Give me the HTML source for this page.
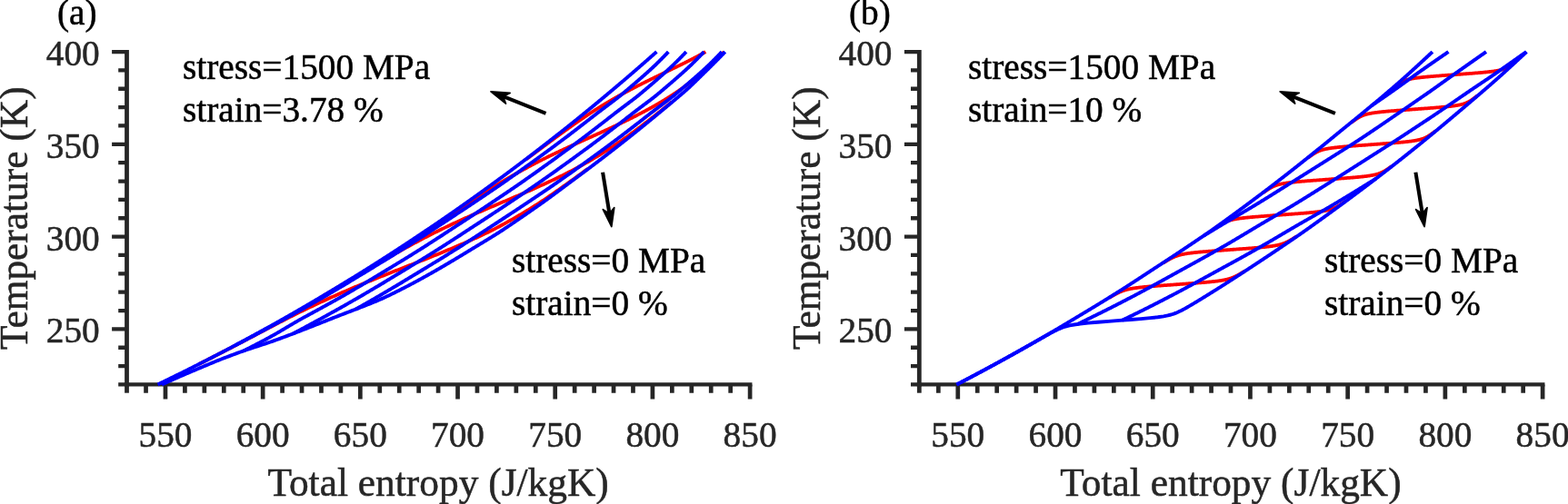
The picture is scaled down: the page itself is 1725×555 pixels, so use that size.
<!DOCTYPE html>
<html lang="en"><head><meta charset="utf-8"><title>Temperature vs total entropy</title>
<style>
html,body{margin:0;padding:0;background:#fff;}
body{width:1725px;height:555px;overflow:hidden;font-family:"Liberation Serif",serif;}
svg{display:block;}
text{white-space:pre;}
</style></head><body>
<svg width="1725" height="555" viewBox="0 0 1725 555" font-family="'Liberation Serif', serif">
<rect width="1725" height="555" fill="#fff"/>
<path d="M139.50,54.90V425.60" stroke="#262626" stroke-width="4.8" fill="none"/>
<path d="M137.10,423.45H827.45" stroke="#262626" stroke-width="4.3" fill="none"/>
<path d="M160.54,423.45v9.25M181.97,423.45v16.0M203.41,423.45v9.25M224.85,423.45v9.25M246.29,423.45v9.25M267.73,423.45v9.25M289.16,423.45v16.0M310.60,423.45v9.25M332.04,423.45v9.25M353.47,423.45v9.25M374.91,423.45v9.25M396.35,423.45v16.0M417.79,423.45v9.25M439.23,423.45v9.25M460.66,423.45v9.25M482.10,423.45v9.25M503.54,423.45v16.0M524.97,423.45v9.25M546.41,423.45v9.25M567.85,423.45v9.25M589.29,423.45v9.25M610.72,423.45v16.0M632.16,423.45v9.25M653.60,423.45v9.25M675.04,423.45v9.25M696.48,423.45v9.25M717.91,423.45v16.0M739.35,423.45v9.25M760.79,423.45v9.25M782.23,423.45v9.25M803.66,423.45v9.25M825.10,423.45v16.0" stroke="#262626" stroke-width="4.7" fill="none"/>
<path d="M139.50,423.45v9.25" stroke="#262626" stroke-width="4.8" fill="none"/>
<path d="M139.50,423.45H130.20M139.50,403.09H130.20M139.50,382.74H130.20M139.50,362.38H123.10M139.50,342.03H130.20M139.50,321.67H130.20M139.50,301.32H130.20M139.50,280.96H130.20M139.50,260.61H123.10M139.50,240.25H130.20M139.50,219.89H130.20M139.50,199.54H130.20M139.50,179.18H130.20M139.50,158.83H123.10M139.50,138.47H130.20M139.50,118.12H130.20M139.50,97.76H130.20M139.50,77.41H130.20M139.50,57.05H123.10" stroke="#262626" stroke-width="4.3" fill="none"/>
<g>
<path d="M578.84,175.50L579.37,175.10L579.90,174.71L580.44,174.31L580.97,173.92L581.50,173.52L582.03,173.12L582.56,172.73L583.10,172.33L583.63,171.93L584.16,171.54L584.69,171.14L585.22,170.75L585.76,170.35L586.29,169.95L586.82,169.56L587.35,169.16L587.88,168.77L588.42,168.37L588.95,167.97L589.48,167.58L590.01,167.18L590.54,166.78L591.08,166.39L591.61,165.99L592.14,165.60L592.67,165.20L593.20,164.80L593.74,164.41L594.27,164.01L594.80,163.62L595.33,163.22L595.87,162.82L596.40,162.43L596.93,162.03L597.47,161.63L598.00,161.24L598.53,160.84L599.06,160.45L599.60,160.05L600.13,159.65L600.67,159.26L601.20,158.86L601.73,158.47L602.27,158.07L602.80,157.67L603.34,157.28L603.87,156.88L604.41,156.48L604.94,156.09L605.48,155.69L606.01,155.30L606.55,154.90L607.09,154.50L607.62,154.11L608.16,153.71L608.70,153.32L609.24,152.92L609.77,152.52L610.31,152.13L610.85,151.73L611.39,151.33L611.93,150.94L612.47,150.54L613.01,150.15L613.55,149.75L614.09,149.35L614.63,148.96L615.18,148.56L615.72,148.17L616.26,147.77L616.81,147.37L617.35,146.98L617.89,146.58L618.44,146.18L618.98,145.79L619.53,145.39L620.08,145.00L620.62,144.60L621.17,144.20L621.72,143.81L622.27,143.41L622.82,143.02L623.37,142.62L623.92,142.22L624.47,141.83L625.03,141.43L625.58,141.03L626.14,140.64L626.69,140.24L627.25,139.85L627.80,139.45L628.36,139.05L628.92,138.66L629.48,138.26L630.04,137.87L630.60,137.47L631.16,137.07L631.72,136.68L632.29,136.28L632.85,135.88L633.42,135.49L633.99,135.09L634.55,134.70L635.12,134.30L635.69,133.90L636.26,133.51L636.84,133.11L637.41,132.72L637.99,132.32L638.56,131.92L639.14,131.53L639.72,131.13L640.30,130.73L640.88,130.34L641.46,129.94L642.04,129.55L642.63,129.15L643.22,128.75L643.80,128.36L644.39,127.96L644.99,127.57L645.58,127.17L646.17,126.77L646.77,126.38L647.36,125.98L647.96,125.58L648.56,125.19L649.16,124.79L649.77,124.40L650.37,124.00L650.98,123.60L651.59,123.21L652.20,122.81L652.81,122.42L653.43,122.02L654.04,121.62L654.66,121.23L655.28,120.83L655.90,120.43L656.53,120.04L657.15,119.64L657.78,119.25L658.41,118.85L659.04,118.45L659.68,118.06L660.32,117.66L660.95,117.27L661.59,116.87L662.24,116.47L662.88,116.08L663.53,115.68L664.18,115.28L664.83,114.89L665.49,114.49L666.14,114.10L666.80,113.70L667.46,113.30L668.13,112.91L668.79,112.51L669.46,112.12L670.13,111.72L670.81,111.32L671.48,110.93L672.16,110.53L672.84,110.13L673.53,109.74L674.21,109.34L674.90,108.95L675.59,108.55L676.29,108.15L676.98,107.76L677.68,107.36L678.39,106.97L679.09,106.57L679.80,106.17L680.51,105.78L681.22,105.38L681.93,104.98L682.65,104.59L683.37,104.19L684.10,103.80L684.82,103.40L685.55,103.00L686.28,102.61L687.02,102.21L687.75,101.82L688.49,101.42L689.23,101.02L689.98,100.63L690.72,100.23L691.47,99.83L692.22,99.44L692.97,99.04L693.73,98.65L694.49,98.25L695.24,97.85L696.00,97.46L696.77,97.06L697.53,96.67L698.30,96.27L699.07,95.87L699.84,95.48L700.61,95.08L701.39,94.68L702.16,94.29L702.94,93.89L703.72,93.50L704.51,93.10L705.29,92.70L706.07,92.31L706.86,91.91L707.65,91.52L708.44,91.12L709.23,90.72L710.03,90.33L710.82,89.93L711.62,89.53L712.42,89.14L713.22,88.74L714.02,88.35L714.82,87.95L715.63,87.55L716.43,87.16L717.24,86.76L718.04,86.37L718.85,85.97L719.66,85.57L720.47,85.18L721.28,84.78L722.10,84.38L722.91,83.99L723.73,83.59L724.54,83.20L725.36,82.80L726.17,82.40L726.99,82.01L727.81,81.61L728.63,81.22L729.45,80.82L730.27,80.42L731.09,80.03L731.91,79.63L732.73,79.23L733.55,78.84L734.37,78.44L735.19,78.05L736.01,77.65L736.83,77.25L737.65,76.86L738.47,76.46L739.29,76.07L740.10,75.67L740.92,75.27L741.74,74.88L742.55,74.48L743.36,74.08L744.17,73.69L744.98,73.29L745.79,72.90L746.60,72.50L747.41,72.10L748.21,71.71L749.02,71.31L749.82,70.92L750.62,70.52L751.42,70.12L752.21,69.73L753.01,69.33L753.80,68.93L754.59,68.54L755.38,68.14L756.16,67.75L756.94,67.35L757.72,66.95L758.50,66.56L759.28,66.16L760.05,65.77L760.82,65.37L761.59,64.97L762.36,64.58L763.12,64.18L763.88,63.78L764.64,63.39L765.39,62.99L766.14,62.60L766.89,62.20L767.63,61.80L768.37,61.41L769.11,61.01L769.85,60.62L770.58,60.22L771.31,59.82L772.04,59.43L772.76,59.03L773.48,58.63L774.19,58.24L774.91,57.84L775.61,57.45L776.32,57.05" stroke="#ff0000" stroke-width="3.8" fill="none" stroke-linejoin="round" stroke-linecap="butt"/>
<path d="M464.67,257.00L465.68,256.33L466.70,255.66L467.71,254.99L468.72,254.33L469.74,253.66L470.75,252.99L471.76,252.32L472.77,251.65L473.78,250.98L474.79,250.31L475.80,249.64L476.81,248.98L477.82,248.31L478.83,247.64L479.84,246.97L480.85,246.30L481.86,245.63L482.87,244.96L483.88,244.29L484.88,243.63L485.89,242.96L486.90,242.29L487.91,241.62L488.92,240.95L489.93,240.28L490.93,239.61L491.94,238.94L492.95,238.28L493.96,237.61L494.97,236.94L495.98,236.27L496.99,235.60L498.00,234.93L499.01,234.26L500.02,233.59L501.03,232.93L502.04,232.26L503.06,231.59L504.07,230.92L505.08,230.25L506.10,229.58L507.11,228.91L508.13,228.24L509.15,227.58L510.16,226.91L511.18,226.24L512.20,225.57L513.22,224.90L514.25,224.23L515.27,223.56L516.29,222.89L517.32,222.23L518.35,221.56L519.38,220.89L520.41,220.22L521.44,219.55L522.47,218.88L523.50,218.21L524.54,217.54L525.58,216.88L526.62,216.21L527.66,215.54L528.71,214.87L529.75,214.20L530.80,213.53L531.85,212.86L532.90,212.20L533.96,211.53L535.02,210.86L536.08,210.19L537.14,209.52L538.21,208.85L539.28,208.18L540.35,207.51L541.43,206.85L542.51,206.18L543.59,205.51L544.68,204.84L545.76,204.17L546.86,203.50L547.96,202.83L549.06,202.16L550.16,201.50L551.27,200.83L552.39,200.16L553.50,199.49L554.63,198.82L555.75,198.15L556.89,197.48L558.02,196.81L559.16,196.15L560.31,195.48L561.46,194.81L562.62,194.14L563.78,193.47L564.95,192.80L566.12,192.13L567.30,191.46L568.48,190.80L569.67,190.13L570.87,189.46L572.07,188.79L573.28,188.12L574.49,187.45L575.71,186.78L576.93,186.11L578.17,185.45L579.41,184.78L580.65,184.11L581.90,183.44L583.16,182.77L584.42,182.10L585.70,181.43L586.97,180.76L588.26,180.10L589.55,179.43L590.85,178.76L592.15,178.09L593.46,177.42L594.78,176.75L596.11,176.08L597.44,175.42L598.78,174.75L600.12,174.08L601.47,173.41L602.83,172.74L604.20,172.07L605.57,171.40L606.95,170.73L608.33,170.07L609.72,169.40L611.12,168.73L612.52,168.06L613.93,167.39L615.34,166.72L616.76,166.05L618.18,165.38L619.61,164.72L621.05,164.05L622.49,163.38L623.93,162.71L625.38,162.04L626.83,161.37L628.29,160.70L629.75,160.03L631.22,159.37L632.68,158.70L634.15,158.03L635.63,157.36L637.10,156.69L638.58,156.02L640.06,155.35L641.54,154.68L643.03,154.02L644.51,153.35L645.99,152.68L647.48,152.01L648.97,151.34L650.45,150.67L651.94,150.00L653.42,149.33L654.90,148.67L656.38,148.00L657.86,147.33L659.34,146.66L660.82,145.99L662.29,145.32L663.76,144.65L665.22,143.98L666.69,143.32L668.14,142.65L669.60,141.98L671.05,141.31L672.49,140.64L673.93,139.97L675.37,139.30L676.80,138.63L678.22,137.97L679.64,137.30L681.05,136.63L682.46,135.96L683.86,135.29L685.25,134.62L686.64,133.95L688.01,133.29L689.39,132.62L690.75,131.95L692.11,131.28L693.46,130.61L694.80,129.94L696.13,129.27L697.46,128.60L698.78,127.94L700.09,127.27L701.39,126.60L702.69,125.93L703.97,125.26L705.25,124.59L706.52,123.92L707.78,123.25L709.04,122.59L710.28,121.92L711.52,121.25L712.75,120.58L713.97,119.91L715.19,119.24L716.39,118.57L717.59,117.90L718.78,117.24L719.96,116.57L721.13,115.90L722.29,115.23L723.45,114.56L724.59,113.89L725.73,113.22L726.86,112.55L727.99,111.89L729.10,111.22L730.21,110.55L731.31,109.88L732.40,109.21L733.48,108.54L734.56,107.87L735.62,107.20L736.68,106.54L737.73,105.87L738.78,105.20L739.81,104.53L740.84,103.86L741.86,103.19L742.88,102.52L743.88,101.85L744.88,101.19L745.86,100.52L746.83,99.85L747.79,99.18L748.74,98.51L749.68,97.84L750.61,97.17L751.53,96.51L752.43,95.84L753.33,95.17L754.22,94.50L755.10,93.83L755.98,93.16L756.84,92.49L757.70,91.82L758.55,91.16L759.39,90.49L760.23,89.82L761.06,89.15L761.88,88.48L762.70,87.81L763.51,87.14L764.32,86.47L765.12,85.81L765.92,85.14L766.72,84.47L767.51,83.80L768.30,83.13L769.09,82.46L769.87,81.79L770.66,81.12L771.44,80.46L772.22,79.79L772.99,79.12L773.76,78.45L774.53,77.78L775.30,77.11L776.06,76.44L776.82,75.77L777.57,75.11L778.32,74.44L779.06,73.77L779.81,73.10L780.55,72.43L781.28,71.76L782.02,71.09L782.75,70.42L783.47,69.76L784.20,69.09L784.92,68.42L785.64,67.75L786.35,67.08L787.06,66.41L787.77,65.74L788.48,65.07L789.18,64.41L789.88,63.74L790.58,63.07L791.28,62.40L791.97,61.73L792.66,61.06L793.35,60.39L794.04,59.72L794.72,59.06L795.40,58.39L796.08,57.72L796.76,57.05" stroke="#ff0000" stroke-width="3.8" fill="none" stroke-linejoin="round" stroke-linecap="butt"/>
<path d="M353.54,327.10L354.77,326.38L355.99,325.66L357.22,324.94L358.44,324.22L359.67,323.50L360.89,322.79L362.12,322.07L363.34,321.35L364.56,320.63L365.78,319.91L367.00,319.19L368.22,318.47L369.44,317.75L370.65,317.03L371.87,316.31L373.09,315.59L374.30,314.88L375.52,314.16L376.73,313.44L377.95,312.72L379.16,312.00L380.38,311.28L381.59,310.56L382.80,309.84L384.02,309.12L385.23,308.40L386.44,307.69L387.66,306.97L388.87,306.25L390.08,305.53L391.30,304.81L392.51,304.09L393.72,303.37L394.94,302.65L396.15,301.93L397.36,301.21L398.58,300.49L399.79,299.78L401.01,299.06L402.23,298.34L403.44,297.62L404.66,296.90L405.88,296.18L407.10,295.46L408.32,294.74L409.54,294.02L410.77,293.30L411.99,292.58L413.22,291.87L414.44,291.15L415.67,290.43L416.90,289.71L418.13,288.99L419.36,288.27L420.60,287.55L421.84,286.83L423.08,286.11L424.32,285.39L425.56,284.68L426.81,283.96L428.06,283.24L429.31,282.52L430.56,281.80L431.82,281.08L433.08,280.36L434.34,279.64L435.61,278.92L436.88,278.20L438.15,277.48L439.42,276.77L440.71,276.05L441.99,275.33L443.28,274.61L444.57,273.89L445.87,273.17L447.17,272.45L448.48,271.73L449.79,271.01L451.11,270.29L452.43,269.57L453.76,268.86L455.09,268.14L456.43,267.42L457.78,266.70L459.13,265.98L460.48,265.26L461.85,264.54L463.21,263.82L464.59,263.10L465.97,262.38L467.36,261.67L468.75,260.95L470.16,260.23L471.56,259.51L472.98,258.79L474.40,258.07L475.83,257.35L477.26,256.63L478.71,255.91L480.16,255.19L481.61,254.47L483.08,253.76L484.55,253.04L486.02,252.32L487.51,251.60L489.00,250.88L490.49,250.16L492.00,249.44L493.51,248.72L495.03,248.00L496.55,247.28L498.09,246.56L499.63,245.85L501.18,245.13L502.74,244.41L504.30,243.69L505.88,242.97L507.46,242.25L509.05,241.53L510.64,240.81L512.24,240.09L513.85,239.37L515.47,238.66L517.09,237.94L518.72,237.22L520.36,236.50L522.00,235.78L523.65,235.06L525.31,234.34L526.97,233.62L528.64,232.90L530.31,232.18L531.98,231.46L533.67,230.75L535.35,230.03L537.04,229.31L538.73,228.59L540.43,227.87L542.13,227.15L543.83,226.43L545.54,225.71L547.24,224.99L548.95,224.27L550.66,223.55L552.37,222.84L554.07,222.12L555.78,221.40L557.48,220.68L559.18,219.96L560.88,219.24L562.58,218.52L564.27,217.80L565.96,217.08L567.65,216.36L569.33,215.65L571.01,214.93L572.68,214.21L574.35,213.49L576.02,212.77L577.67,212.05L579.33,211.33L580.97,210.61L582.61,209.89L584.25,209.17L585.88,208.45L587.50,207.74L589.11,207.02L590.72,206.30L592.32,205.58L593.91,204.86L595.50,204.14L597.08,203.42L598.65,202.70L600.22,201.98L601.78,201.26L603.33,200.54L604.87,199.83L606.40,199.11L607.93,198.39L609.45,197.67L610.95,196.95L612.45,196.23L613.94,195.51L615.42,194.79L616.89,194.07L618.35,193.35L619.80,192.64L621.23,191.92L622.66,191.20L624.08,190.48L625.49,189.76L626.89,189.04L628.28,188.32L629.67,187.60L631.04,186.88L632.40,186.16L633.75,185.44L635.09,184.73L636.42,184.01L637.75,183.29L639.06,182.57L640.36,181.85L641.66,181.13L642.94,180.41L644.22,179.69L645.48,178.97L646.74,178.25L647.99,177.53L649.23,176.82L650.46,176.10L651.69,175.38L652.90,174.66L654.11,173.94L655.30,173.22L656.50,172.50L657.68,171.78L658.85,171.06L660.02,170.34L661.18,169.63L662.33,168.91L663.48,168.19L664.62,167.47L665.75,166.75L666.87,166.03L667.99,165.31L669.11,164.59L670.21,163.87L671.31,163.15L672.40,162.43L673.49,161.72L674.57,161.00L675.65,160.28L676.72,159.56L677.78,158.84L678.84,158.12L679.90,157.40L680.95,156.68L681.99,155.96L683.03,155.24L684.06,154.52L685.09,153.81L686.12,153.09L687.14,152.37L688.15,151.65L689.16,150.93L690.17,150.21L691.17,149.49L692.17,148.77L693.16,148.05L694.15,147.33L695.14,146.62L696.12,145.90L697.10,145.18L698.07,144.46L699.04,143.74L700.01,143.02L700.97,142.30L701.93,141.58L702.89,140.86L703.84,140.14L704.79,139.42L705.74,138.71L706.68,137.99L707.62,137.27L708.56,136.55L709.49,135.83L710.43,135.11L711.36,134.39L712.29,133.67L713.21,132.95L714.13,132.23L715.06,131.51L715.97,130.80L716.89,130.08L717.81,129.36L718.72,128.64L719.63,127.92L720.54,127.20L721.44,126.48L722.35,125.76L723.25,125.04L724.15,124.32L725.06,123.61L725.96,122.89L726.85,122.17L727.75,121.45L728.65,120.73L729.54,120.01L730.43,119.29L731.32,118.57L732.21,117.85L733.10,117.13L733.99,116.41L734.87,115.70L735.76,114.98L736.64,114.26L737.52,113.54L738.40,112.82L739.27,112.10" stroke="#ff0000" stroke-width="3.8" fill="none" stroke-linejoin="round" stroke-linecap="butt"/>
<path d="M219.45,400.70L220.86,399.98L222.28,399.26L223.70,398.54L225.11,397.82L226.52,397.10L227.94,396.39L229.35,395.67L230.76,394.95L232.17,394.23L233.57,393.51L234.98,392.79L236.39,392.07L237.79,391.35L239.19,390.63L240.59,389.91L241.99,389.19L243.39,388.48L244.79,387.76L246.18,387.04L247.58,386.32L248.97,385.60L250.37,384.88L251.76,384.16L253.15,383.44L254.54,382.72L255.92,382.00L257.31,381.29L258.69,380.57L260.08,379.85L261.46,379.13L262.84,378.41L264.21,377.69L265.59,376.97L266.96,376.25L268.33,375.53L269.70,374.81L271.06,374.09L272.43,373.38L273.79,372.66L275.16,371.94L276.52,371.22L277.89,370.50L279.25,369.78L280.62,369.06L281.98,368.34L283.35,367.62L284.71,366.90L286.08,366.18L287.45,365.47L288.81,364.75L290.18,364.03L291.55,363.31L292.92,362.59L294.29,361.87L295.66,361.15L297.03,360.43L298.41,359.71L299.79,358.99L301.16,358.28L302.54,357.56L303.93,356.84L305.31,356.12L306.70,355.40L308.08,354.68L309.48,353.96L310.87,353.24L312.27,352.52L313.67,351.80L315.07,351.08L316.48,350.37L317.89,349.65L319.31,348.93L320.73,348.21L322.16,347.49L323.59,346.77L325.02,346.05L326.47,345.33L327.92,344.61L329.37,343.89L330.83,343.17L332.30,342.46L333.77,341.74L335.25,341.02L336.74,340.30L338.23,339.58L339.73,338.86L341.24,338.14L342.76,337.42L344.28,336.70L345.80,335.98L347.34,335.27L348.88,334.55L350.43,333.83L351.99,333.11L353.55,332.39L355.12,331.67L356.70,330.95L358.28,330.23L359.87,329.51L361.46,328.79L363.06,328.07L364.66,327.36L366.27,326.64L367.89,325.92L369.50,325.20L371.13,324.48L372.76,323.76L374.39,323.04L376.04,322.32L377.69,321.60L379.35,320.88L381.02,320.16L382.69,319.45L384.38,318.73L386.07,318.01L387.77,317.29L389.47,316.57L391.19,315.85L392.91,315.13L394.63,314.41L396.37,313.69L398.11,312.97L399.86,312.26L401.62,311.54L403.38,310.82L405.15,310.10L406.93,309.38L408.71,308.66L410.50,307.94L412.29,307.22L414.09,306.50L415.90,305.78L417.71,305.06L419.52,304.35L421.34,303.63L423.16,302.91L424.99,302.19L426.82,301.47L428.65,300.75L430.49,300.03L432.33,299.31L434.17,298.59L436.01,297.87L437.86,297.15L439.70,296.44L441.55,295.72L443.39,295.00L445.24,294.28L447.08,293.56L448.93,292.84L450.77,292.12L452.61,291.40L454.45,290.68L456.29,289.96L458.13,289.25L459.96,288.53L461.79,287.81L463.61,287.09L465.44,286.37L467.25,285.65L469.07,284.93L470.88,284.21L472.68,283.49L474.48,282.77L476.27,282.05L478.06,281.34L479.84,280.62L481.62,279.90L483.39,279.18L485.15,278.46L486.91,277.74L488.66,277.02L490.40,276.30L492.14,275.58L493.87,274.86L495.59,274.14L497.31,273.43L499.02,272.71L500.72,271.99L502.42,271.27L504.11,270.55L505.80,269.83L507.47,269.11L509.14,268.39L510.80,267.67L512.45,266.95L514.09,266.24L515.72,265.52L517.34,264.80L518.95,264.08L520.56,263.36L522.15,262.64L523.73,261.92L525.30,261.20L526.85,260.48L528.40,259.76L529.94,259.04L531.46,258.33L532.97,257.61L534.47,256.89L535.95,256.17L537.42,255.45L538.88,254.73L540.32,254.01L541.76,253.29L543.17,252.57L544.57,251.85L545.96,251.13L547.33,250.42L548.69,249.70L550.04,248.98L551.38,248.26L552.71,247.54L554.04,246.82L555.35,246.10L556.66,245.38L557.96,244.66L559.25,243.94L560.53,243.23L561.81,242.51L563.08,241.79L564.34,241.07L565.59,240.35L566.84,239.63L568.08,238.91L569.32,238.19L570.54,237.47L571.76,236.75L572.98,236.03L574.18,235.32L575.39,234.60L576.58,233.88L577.77,233.16L578.95,232.44L580.13,231.72L581.30,231.00L582.47,230.28L583.63,229.56L584.79,228.84L585.94,228.12L587.09,227.41L588.23,226.69L589.36,225.97L590.50,225.25L591.62,224.53L592.74,223.81L593.85,223.09L594.96,222.37L596.05,221.65L597.15,220.93L598.23,220.22L599.31,219.50L600.38,218.78L601.45,218.06L602.51,217.34L603.57,216.62L604.62,215.90L605.67,215.18L606.71,214.46L607.75,213.74L608.79,213.02L609.82,212.31L610.85,211.59L611.87,210.87L612.90,210.15L613.92,209.43L614.93,208.71L615.95,207.99L616.96,207.27L617.97,206.55L618.99,205.83L619.99,205.11L621.00,204.40L622.01,203.68L623.02,202.96L624.03,202.24L625.03,201.52L626.04,200.80L627.05,200.08L628.05,199.36L629.06,198.64L630.06,197.92L631.07,197.21L632.07,196.49L633.07,195.77L634.06,195.05L635.06,194.33L636.05,193.61L637.04,192.89L638.03,192.17L639.02,191.45L640.01,190.73L641.00,190.01L641.98,189.30L642.96,188.58L643.94,187.86L644.92,187.14L645.90,186.42L646.88,185.70" stroke="#ff0000" stroke-width="3.8" fill="none" stroke-linejoin="round" stroke-linecap="butt"/>
<path d="M173.57,423.45L175.46,422.53L177.34,421.62L179.22,420.70L181.10,419.79L182.97,418.87L184.84,417.95L186.70,417.04L188.56,416.12L190.42,415.21L192.28,414.29L194.13,413.37L195.97,412.46L197.82,411.54L199.66,410.63L201.49,409.71L203.33,408.79L205.16,407.88L206.98,406.96L208.80,406.05L210.62,405.13L212.44,404.21L214.25,403.30L216.06,402.38L217.87,401.47L219.67,400.55L221.47,399.63L223.26,398.72L225.06,397.80L226.85,396.89L228.64,395.97L230.42,395.05L232.21,394.14L233.99,393.22L235.77,392.31L237.54,391.39L239.32,390.47L241.09,389.56L242.85,388.64L244.61,387.73L246.37,386.81L248.12,385.89L249.87,384.98L251.62,384.06L253.36,383.15L255.09,382.23L256.83,381.31L258.55,380.40L260.27,379.48L261.99,378.57L263.70,377.65L265.40,376.73L267.10,375.82L268.80,374.90L270.49,373.99L272.17,373.07L273.86,372.15L275.54,371.24L277.22,370.32L278.89,369.41L280.56,368.49L282.23,367.57L283.89,366.66L285.56,365.74L287.22,364.83L288.87,363.91L290.52,362.99L292.17,362.08L293.82,361.16L295.47,360.25L297.11,359.33L298.75,358.41L300.38,357.50L302.01,356.58L303.64,355.67L305.27,354.75L306.89,353.83L308.51,352.92L310.13,352.00L311.75,351.09L313.36,350.17L314.97,349.25L316.58,348.34L318.18,347.42L319.78,346.51L321.38,345.59L322.98,344.67L324.57,343.76L326.16,342.84L327.75,341.93L329.33,341.01L330.91,340.09L332.49,339.18L334.07,338.26L335.64,337.35L337.21,336.43L338.78,335.51L340.35,334.60L341.91,333.68L343.47,332.77L345.03,331.85L346.58,330.93L348.13,330.02L349.68,329.10L351.23,328.19L352.77,327.27L354.32,326.35L355.86,325.44L357.39,324.52L358.93,323.61L360.46,322.69L361.99,321.77L363.51,320.86L365.04,319.94L366.56,319.03L368.08,318.11L369.59,317.19L371.11,316.28L372.62,315.36L374.13,314.45L375.63,313.53L377.14,312.61L378.64,311.70L380.14,310.78L381.63,309.87L383.13,308.95L384.62,308.03L386.11,307.12L387.60,306.20L389.08,305.29L390.56,304.37L392.04,303.45L393.52,302.54L394.99,301.62L396.47,300.71L397.94,299.79L399.40,298.87L400.87,297.96L402.33,297.04L403.79,296.13L405.25,295.21L406.71,294.29L408.16,293.38L409.61,292.46L411.06,291.55L412.51,290.63L413.95,289.71L415.40,288.80L416.84,287.88L418.27,286.97L419.71,286.05L421.14,285.13L422.57,284.22L424.00,283.30L425.43,282.39L426.85,281.47L428.28,280.55L429.70,279.64L431.11,278.72L432.53,277.81L433.94,276.89L435.36,275.97L436.76,275.06L438.17,274.14L439.58,273.23L440.98,272.31L442.38,271.39L443.78,270.48L445.17,269.56L446.57,268.65L447.96,267.73L449.35,266.81L450.74,265.90L452.12,264.98L453.51,264.07L454.89,263.15L456.27,262.23L457.64,261.32L459.02,260.40L460.39,259.49L461.76,258.57L463.13,257.65L464.50,256.74L465.87,255.82L467.23,254.91L468.59,253.99L469.95,253.07L471.31,252.16L472.66,251.24L474.01,250.33L475.36,249.41L476.71,248.49L478.06,247.58L479.40,246.66L480.75,245.75L482.09,244.83L483.43,243.91L484.76,243.00L486.10,242.08L487.43,241.17L488.76,240.25L490.09,239.33L491.42,238.42L492.75,237.50L494.07,236.59L495.39,235.67L496.71,234.75L498.03,233.84L499.35,232.92L500.66,232.01L501.97,231.09L503.28,230.17L504.59,229.26L505.90,228.34L507.20,227.43L508.51,226.51L509.81,225.59L511.11,224.68L512.40,223.76L513.70,222.85L514.99,221.93L516.28,221.01L517.57,220.10L518.86,219.18L520.15,218.27L521.43,217.35L522.72,216.43L524.00,215.52L525.28,214.60L526.55,213.69L527.83,212.77L529.10,211.85L530.38,210.94L531.65,210.02L532.92,209.11L534.18,208.19L535.45,207.27L536.71,206.36L537.97,205.44L539.23,204.53L540.49,203.61L541.75,202.69L543.00,201.78L544.25,200.86L545.51,199.95L546.76,199.03L548.00,198.11L549.25,197.20L550.49,196.28L551.74,195.37L552.98,194.45L554.22,193.53L555.46,192.62L556.69,191.70L557.93,190.79L559.16,189.87L560.39,188.95L561.62,188.04L562.85,187.12L564.07,186.21L565.30,185.29L566.52,184.37L567.74,183.46L568.96,182.54L570.18,181.63L571.40,180.71L572.61,179.79L573.82,178.88L575.04,177.96L576.25,177.05L577.45,176.13L578.66,175.21L579.87,174.30L581.07,173.38L582.27,172.47L583.47,171.55L584.67,170.63L585.87,169.72L587.07,168.80L588.26,167.89L589.45,166.97L590.64,166.05L591.83,165.14L593.02,164.22L594.21,163.31L595.39,162.39L596.58,161.47L597.76,160.56L598.94,159.64L600.12,158.73L601.29,157.81L602.47,156.89L603.64,155.98L604.82,155.06L605.99,154.15L607.16,153.23L608.33,152.31L609.49,151.40L610.66,150.48L611.82,149.57L612.99,148.65L614.15,147.73L615.31,146.82L616.46,145.90L617.62,144.99L618.78,144.07L619.93,143.15L621.08,142.24L622.23,141.32L623.38,140.41L624.53,139.49L625.68,138.57L626.82,137.66L627.96,136.74L629.11,135.83L630.25,134.91L631.39,133.99L632.52,133.08L633.66,132.16L634.80,131.25L635.93,130.33L637.06,129.41L638.19,128.50L639.32,127.58L640.45,126.67L641.58,125.75L642.70,124.83L643.83,123.92L644.95,123.00L646.07,122.09L647.19,121.17L648.31,120.25L649.43,119.34L650.54,118.42L651.66,117.51L652.77,116.59L653.88,115.67L654.99,114.76L656.10,113.84L657.21,112.93L658.31,112.01L659.42,111.09L660.52,110.18L661.63,109.26L662.73,108.35L663.83,107.43L664.92,106.51L666.02,105.60L667.12,104.68L668.21,103.77L669.30,102.85L670.40,101.93L671.49,101.02L672.58,100.10L673.66,99.19L674.75,98.27L675.84,97.35L676.92,96.44L678.00,95.52L679.08,94.61L680.16,93.69L681.24,92.77L682.32,91.86L683.40,90.94L684.47,90.03L685.55,89.11L686.62,88.19L687.69,87.28L688.76,86.36L689.83,85.45L690.90,84.53L691.96,83.61L693.03,82.70L694.09,81.78L695.16,80.87L696.22,79.95L697.28,79.03L698.34,78.12L699.39,77.20L700.45,76.29L701.51,75.37L702.56,74.45L703.61,73.54L704.66,72.62L705.72,71.71L706.76,70.79L707.81,69.87L708.86,68.96L709.91,68.04L710.95,67.13L711.99,66.21L713.04,65.29L714.08,64.38L715.12,63.46L716.15,62.55L717.19,61.63L718.23,60.71L719.26,59.80L720.30,58.88L721.33,57.97L722.36,57.05" stroke="#0000ff" stroke-width="3.9" fill="none" stroke-linejoin="round" stroke-linecap="butt"/>
<path d="M178.08,423.45L180.05,422.53L182.05,421.62L184.06,420.70L186.09,419.79L188.14,418.87L190.19,417.95L192.27,417.04L194.35,416.12L196.45,415.21L198.56,414.29L200.68,413.37L202.81,412.46L204.94,411.54L207.09,410.63L209.25,409.71L211.41,408.79L213.57,407.88L215.75,406.96L217.92,406.05L220.10,405.13L222.29,404.21L224.47,403.30L226.66,402.38L228.85,401.47L231.03,400.55L233.22,399.63L235.44,398.72L237.69,397.80L239.96,396.89L242.27,395.97L244.60,395.05L246.95,394.14L249.33,393.22L251.73,392.31L254.15,391.39L256.59,390.47L259.05,389.56L261.52,388.64L264.03,387.73L266.63,386.81L269.28,385.89L272.00,384.98L274.75,384.06L277.53,383.15L280.34,382.23L283.15,381.31L285.97,380.40L288.77,379.48L291.54,378.57L294.28,377.65L296.98,376.73L299.62,375.82L302.19,374.90L304.72,373.99L307.23,373.07L309.72,372.15L312.20,371.24L314.66,370.32L317.11,369.41L319.54,368.49L321.96,367.57L324.36,366.66L326.76,365.74L329.14,364.83L331.51,363.91L333.88,362.99L336.23,362.08L338.58,361.16L340.92,360.25L343.25,359.33L345.58,358.41L347.90,357.50L350.22,356.58L352.54,355.67L354.86,354.75L357.17,353.83L359.48,352.92L361.80,352.00L364.11,351.09L366.43,350.17L368.75,349.25L371.10,348.34L373.45,347.42L375.82,346.51L378.20,345.59L380.59,344.67L382.98,343.76L385.37,342.84L387.77,341.93L390.15,341.01L392.54,340.09L394.91,339.18L397.27,338.26L399.62,337.35L401.95,336.43L404.27,335.51L406.56,334.60L408.82,333.68L411.06,332.77L413.27,331.85L415.45,330.93L417.59,330.02L419.70,329.10L421.76,328.19L423.78,327.27L425.76,326.35L427.69,325.44L429.57,324.52L431.43,323.61L433.29,322.69L435.13,321.77L436.95,320.86L438.77,319.94L440.57,319.03L442.37,318.11L444.15,317.19L445.92,316.28L447.68,315.36L449.43,314.45L451.17,313.53L452.89,312.61L454.61,311.70L456.32,310.78L458.02,309.87L459.71,308.95L461.39,308.03L463.07,307.12L464.73,306.20L466.39,305.29L468.04,304.37L469.68,303.45L471.31,302.54L472.94,301.62L474.56,300.71L476.17,299.79L477.77,298.87L479.37,297.96L480.96,297.04L482.55,296.13L484.13,295.21L485.70,294.29L487.26,293.38L488.82,292.46L490.38,291.55L491.93,290.63L493.47,289.71L495.01,288.80L496.55,287.88L498.08,286.97L499.61,286.05L501.13,285.13L502.66,284.22L504.18,283.30L505.69,282.39L507.21,281.47L508.72,280.55L510.23,279.64L511.73,278.72L513.24,277.81L514.75,276.89L516.25,275.97L517.76,275.06L519.26,274.14L520.77,273.23L522.28,272.31L523.80,271.39L525.31,270.48L526.82,269.56L528.33,268.65L529.85,267.73L531.36,266.81L532.86,265.90L534.37,264.98L535.87,264.07L537.36,263.15L538.86,262.23L540.34,261.32L541.82,260.40L543.29,259.49L544.76,258.57L546.22,257.65L547.67,256.74L549.11,255.82L550.53,254.91L551.95,253.99L553.36,253.07L554.76,252.16L556.14,251.24L557.51,250.33L558.87,249.41L560.22,248.49L561.58,247.58L562.93,246.66L564.28,245.75L565.62,244.83L566.97,243.91L568.31,243.00L569.65,242.08L570.99,241.17L572.33,240.25L573.66,239.33L574.99,238.42L576.32,237.50L577.65,236.59L578.97,235.67L580.30,234.75L581.62,233.84L582.94,232.92L584.25,232.01L585.57,231.09L586.88,230.17L588.19,229.26L589.50,228.34L590.80,227.43L592.11,226.51L593.41,225.59L594.71,224.68L596.00,223.76L597.28,222.85L598.56,221.93L599.84,221.01L601.10,220.10L602.37,219.18L603.62,218.27L604.88,217.35L606.12,216.43L607.37,215.52L608.61,214.60L609.85,213.69L611.08,212.77L612.32,211.85L613.55,210.94L614.78,210.02L616.00,209.11L617.23,208.19L618.46,207.27L619.68,206.36L620.91,205.44L622.14,204.53L623.37,203.61L624.60,202.69L625.83,201.78L627.07,200.86L628.31,199.95L629.54,199.03L630.78,198.11L632.02,197.20L633.25,196.28L634.49,195.37L635.72,194.45L636.95,193.53L638.18,192.62L639.41,191.70L640.64,190.79L641.86,189.87L643.09,188.95L644.31,188.04L645.54,187.12L646.76,186.21L647.97,185.29L649.19,184.37L650.41,183.46L651.62,182.54L652.83,181.63L654.04,180.71L655.25,179.79L656.46,178.88L657.66,177.96L658.86,177.05L660.07,176.13L661.26,175.21L662.46,174.30L663.65,173.38L664.85,172.47L666.04,171.55L667.23,170.63L668.42,169.72L669.60,168.80L670.79,167.89L671.97,166.97L673.15,166.05L674.33,165.14L675.51,164.22L676.68,163.31L677.86,162.39L679.03,161.47L680.20,160.56L681.37,159.64L682.54,158.73L683.70,157.81L684.87,156.89L686.03,155.98L687.19,155.06L688.35,154.15L689.51,153.23L690.66,152.31L691.81,151.40L692.97,150.48L694.12,149.57L695.26,148.65L696.41,147.73L697.55,146.82L698.70,145.90L699.84,144.99L700.97,144.07L702.11,143.15L703.24,142.24L704.37,141.32L705.51,140.41L706.63,139.49L707.76,138.57L708.89,137.66L710.01,136.74L711.13,135.83L712.25,134.91L713.37,133.99L714.49,133.08L715.61,132.16L716.72,131.25L717.84,130.33L718.95,129.41L720.06,128.50L721.17,127.58L722.28,126.67L723.39,125.75L724.50,124.83L725.61,123.92L726.71,123.00L727.82,122.09L728.93,121.17L730.03,120.25L731.14,119.34L732.24,118.42L733.34,117.51L734.44,116.59L735.54,115.67L736.64,114.76L737.74,113.84L738.83,112.93L739.93,112.01L741.02,111.09L742.11,110.18L743.19,109.26L744.28,108.35L745.36,107.43L746.44,106.51L747.52,105.60L748.59,104.68L749.66,103.77L750.73,102.85L751.79,101.93L752.85,101.02L753.89,100.10L754.92,99.19L755.94,98.27L756.95,97.35L757.95,96.44L758.94,95.52L759.92,94.61L760.89,93.69L761.86,92.77L762.81,91.86L763.77,90.94L764.71,90.03L765.66,89.11L766.60,88.19L767.53,87.28L768.47,86.36L769.40,85.45L770.33,84.53L771.27,83.61L772.20,82.70L773.13,81.78L774.07,80.87L775.01,79.95L775.95,79.03L776.89,78.12L777.82,77.20L778.75,76.29L779.68,75.37L780.61,74.45L781.53,73.54L782.45,72.62L783.37,71.71L784.29,70.79L785.21,69.87L786.12,68.96L787.03,68.04L787.94,67.13L788.84,66.21L789.74,65.29L790.64,64.38L791.54,63.46L792.44,62.55L793.33,61.63L794.23,60.71L795.11,59.80L796.00,58.88L796.89,57.97L797.77,57.05" stroke="#0000ff" stroke-width="3.9" fill="none" stroke-linejoin="round" stroke-linecap="butt"/>
<path d="M258.54,380.40L258.55,380.40L260.32,379.48L262.09,378.57L263.85,377.65L265.61,376.73L267.36,375.82L269.10,374.90L270.85,373.99L272.58,373.07L274.32,372.15L276.06,371.24L277.79,370.32L279.52,369.41L281.24,368.49L282.97,367.57L284.69,366.66L286.41,365.74L288.12,364.83L289.83,363.91L291.54,362.99L293.25,362.08L294.96,361.16L296.66,360.25L298.35,359.33L300.05,358.41L301.74,357.50L303.43,356.58L305.11,355.67L306.80,354.75L308.47,353.83L310.15,352.92L311.82,352.00L313.49,351.09L315.15,350.17L316.81,349.25L318.47,348.34L320.13,347.42L321.78,346.51L323.43,345.59L325.08,344.67L326.72,343.76L328.37,342.84L330.01,341.93L331.64,341.01L333.28,340.09L334.91,339.18L336.54,338.26L338.16,337.35L339.78,336.43L341.40,335.51L343.01,334.60L344.62,333.68L346.23,332.77L347.83,331.85L349.43,330.93L351.03,330.02L352.62,329.10L354.20,328.19L355.79,327.27L357.36,326.35L358.94,325.44L360.51,324.52L362.07,323.61L363.64,322.69L365.19,321.77L366.75,320.86L368.30,319.94L369.84,319.03L371.39,318.11L372.93,317.19L374.46,316.28L376.00,315.36L377.53,314.45L379.06,313.53L380.58,312.61L382.11,311.70L383.63,310.78L385.14,309.87L386.66,308.95L388.18,308.03L389.69,307.12L391.20,306.20L392.71,305.29L394.22,304.37L395.73,303.45L397.23,302.54L398.74,301.62L400.24,300.71L401.75,299.79L403.25,298.87L404.75,297.96L406.26,297.04L407.76,296.13L409.27,295.21L410.77,294.29L412.28,293.38L413.78,292.46L415.29,291.55L416.79,290.63L418.29,289.71L419.79,288.80L421.28,287.88L422.78,286.97L424.27,286.05L425.76,285.13L427.25,284.22L428.74,283.30L430.22,282.39L431.70,281.47L433.18,280.55L434.65,279.64L436.12,278.72L437.59,277.81L439.05,276.89L440.51,275.97L441.96,275.06L443.41,274.14L444.86,273.23L446.30,272.31L447.74,271.39L449.17,270.48L450.60,269.56L452.03,268.65L453.46,267.73L454.88,266.81L456.30,265.90L457.72,264.98L459.14,264.07L460.55,263.15L461.97,262.23L463.38,261.32L464.78,260.40L466.19,259.49L467.60,258.57L469.00,257.65L470.40,256.74L471.80,255.82L473.20,254.91L474.60,253.99L476.00,253.07L477.40,252.16L478.80,251.24L480.20,250.33L481.59,249.41L482.99,248.49L484.39,247.58L485.78,246.66L487.18,245.75L488.58,244.83L489.97,243.91L491.37,243.00L492.76,242.08L494.15,241.17L495.55,240.25L496.94,239.33L498.33,238.42L499.72,237.50L501.11,236.59L502.50,235.67L503.88,234.75L505.27,233.84L506.65,232.92L508.03,232.01L509.41,231.09L510.79,230.17L512.17,229.26L513.55,228.34L514.92,227.43L516.29,226.51L517.66,225.59L519.03,224.68L520.40,223.76L521.77,222.85L523.13,221.93L524.50,221.01L525.87,220.10L527.24,219.18L528.60,218.27L529.97,217.35L531.33,216.43L532.69,215.52L534.05,214.60L535.41,213.69L536.77,212.77L538.13,211.85L539.48,210.94L540.83,210.02L542.18,209.11L543.53,208.19L544.87,207.27L546.22,206.36L547.55,205.44L548.89,204.53L550.22,203.61L551.55,202.69L552.87,201.78L554.19,200.86L555.51,199.95L556.82,199.03L558.13,198.11L559.44,197.20L560.74,196.28L562.05,195.37L563.34,194.45L564.64,193.53L565.94,192.62L567.23,191.70L568.52,190.79L569.80,189.87L571.09,188.95L572.37,188.04L573.65,187.12L574.93,186.21L576.21,185.29L577.48,184.37L578.75,183.46L580.03,182.54L581.30,181.63L582.56,180.71L583.83,179.79L585.10,178.88L586.36,177.96L587.63,177.05L588.89,176.13L590.15,175.21L591.41,174.30L592.67,173.38L593.93,172.47L595.18,171.55L596.44,170.63L597.69,169.72L598.95,168.80L600.20,167.89L601.45,166.97L602.70,166.05L603.95,165.14L605.19,164.22L606.44,163.31L607.68,162.39L608.92,161.47L610.16,160.56L611.39,159.64L612.63,158.73L613.86,157.81L615.09,156.89L616.32,155.98L617.54,155.06L618.77,154.15L619.99,153.23L621.21,152.31L622.42,151.40L623.63,150.48L624.85,149.57L626.05,148.65L627.26,147.73L628.46,146.82L629.66,145.90L630.85,144.99L632.04,144.07L633.24,143.15L634.42,142.24L635.61,141.32L636.80,140.41L637.98,139.49L639.16,138.57L640.34,137.66L641.52,136.74L642.70,135.83L643.87,134.91L645.05,133.99L646.23,133.08L647.40,132.16L648.58,131.25L649.75,130.33L650.93,129.41L652.10,128.50L653.28,127.58L654.46,126.67L655.63,125.75L656.81,124.83L658.00,123.92L659.19,123.00L660.39,122.09L661.59,121.17L662.80,120.25L664.02,119.34L665.24,118.42L666.45,117.51L667.67,116.59L668.89,115.67L670.11,114.76L671.33,113.84L672.54,112.93L673.75,112.01L674.96,111.09L676.15,110.18L677.34,109.26L678.53,108.35L679.70,107.43L680.86,106.51L682.02,105.60L683.16,104.68L684.29,103.77L685.40,102.85L686.50,101.93L687.59,101.02L688.67,100.10L689.76,99.19L690.84,98.27L691.91,97.35L692.99,96.44L694.06,95.52L695.13,94.61L696.20,93.69L697.26,92.77L698.32,91.86L699.38,90.94L700.44,90.03L701.49,89.11L702.55,88.19L703.59,87.28L704.64,86.36L705.69,85.45L706.73,84.53L707.77,83.61L708.81,82.70L709.85,81.78L710.88,80.87L711.92,79.95L712.94,79.03L713.96,78.12L714.97,77.20L715.96,76.29L716.95,75.37L717.94,74.45L718.91,73.54L719.87,72.62L720.83,71.71L721.78,70.79L722.72,69.87L723.66,68.96L724.59,68.04L725.51,67.13L726.43,66.21L727.35,65.29L728.25,64.38L729.16,63.46L730.05,62.55L730.95,61.63L731.84,60.71L732.73,59.80L733.61,58.88L734.49,57.97L735.37,57.05" stroke="#0000ff" stroke-width="3.9" fill="none" stroke-linejoin="round" stroke-linecap="butt"/>
<path d="M268.16,386.28L268.92,385.89L270.72,384.98L272.52,384.06L274.31,383.15L276.09,382.23L277.87,381.31L279.65,380.40L281.42,379.48L283.19,378.57L284.95,377.65L286.71,376.73L288.46,375.82L290.20,374.90L291.93,373.99L293.63,373.07L295.31,372.15L296.97,371.24L298.61,370.32L300.23,369.41L301.84,368.49L303.43,367.57L305.01,366.66L306.58,365.74L308.14,364.83L309.69,363.91L311.23,362.99L312.78,362.08L314.32,361.16L315.86,360.25L317.40,359.33L318.94,358.41L320.49,357.50L322.04,356.58L323.61,355.67L325.18,354.75L326.76,353.83L328.36,352.92L329.97,352.00L331.60,351.09L333.25,350.17L334.91,349.25L336.58,348.34L338.25,347.42L339.92,346.51L341.60,345.59L343.27,344.67L344.95,343.76L346.63,342.84L348.30,341.93L349.98,341.01L351.66,340.09L353.34,339.18L355.01,338.26L356.68,337.35L358.35,336.43L360.02,335.51L361.69,334.60L363.34,333.68L365.00,332.77L366.65,331.85L368.30,330.93L369.93,330.02L371.57,329.10L373.19,328.19L374.81,327.27L376.42,326.35L378.03,325.44L379.62,324.52L381.21,323.61L382.80,322.69L384.38,321.77L385.96,320.86L387.54,319.94L389.11,319.03L390.68,318.11L392.24,317.19L393.80,316.28L395.36,315.36L396.91,314.45L398.47,313.53L400.01,312.61L401.56,311.70L403.10,310.78L404.64,309.87L406.17,308.95L407.70,308.03L409.23,307.12L410.75,306.20L412.28,305.29L413.79,304.37L415.31,303.45L416.82,302.54L418.33,301.62L419.84,300.71L421.35,299.79L422.85,298.87L424.35,297.96L425.86,297.04L427.36,296.13L428.87,295.21L430.37,294.29L431.88,293.38L433.38,292.46L434.89,291.55L436.39,290.63L437.89,289.71L439.39,288.80L440.88,287.88L442.38,286.97L443.87,286.05L445.36,285.13L446.85,284.22L448.34,283.30L449.82,282.39L451.30,281.47L452.78,280.55L454.25,279.64L455.72,278.72L457.19,277.81L458.65,276.89L460.11,275.97L461.56,275.06L463.01,274.14L464.46,273.23L465.90,272.31L467.34,271.39L468.77,270.48L470.20,269.56L471.63,268.65L473.06,267.73L474.48,266.81L475.90,265.90L477.32,264.98L478.74,264.07L480.15,263.15L481.57,262.23L482.98,261.32L484.38,260.40L485.79,259.49L487.20,258.57L488.60,257.65L490.00,256.74L491.40,255.82L492.80,254.91L494.20,253.99L495.60,253.07L497.00,252.16L498.40,251.24L499.80,250.33L501.19,249.41L502.59,248.49L503.99,247.58L505.38,246.66L506.78,245.75L508.18,244.83L509.57,243.91L510.97,243.00L512.36,242.08L513.75,241.17L515.15,240.25L516.54,239.33L517.93,238.42L519.32,237.50L520.71,236.59L522.10,235.67L523.48,234.75L524.87,233.84L526.25,232.92L527.63,232.01L529.01,231.09L530.39,230.17L531.77,229.26L533.15,228.34L534.52,227.43L535.89,226.51L537.26,225.59L538.63,224.68L540.00,223.76L541.37,222.85L542.73,221.93L544.10,221.01L545.47,220.10L546.84,219.18L548.20,218.27L549.57,217.35L550.93,216.43L552.29,215.52L553.65,214.60L555.01,213.69L556.37,212.77L557.73,211.85L559.08,210.94L560.43,210.02L561.78,209.11L563.13,208.19L564.47,207.27L565.82,206.36L567.15,205.44L568.49,204.53L569.82,203.61L571.15,202.69L572.47,201.78L573.79,200.86L575.11,199.95L576.42,199.03L577.73,198.11L579.04,197.20L580.34,196.28L581.65,195.37L582.94,194.45L584.24,193.53L585.54,192.62L586.83,191.70L588.12,190.79L589.40,189.87L590.69,188.95L591.97,188.04L593.25,187.12L594.53,186.21L595.81,185.29L597.08,184.37L598.35,183.46L599.63,182.54L600.90,181.63L602.16,180.71L603.43,179.79L604.70,178.88L605.96,177.96L607.23,177.05L608.49,176.13L609.75,175.21L611.01,174.30L612.27,173.38L613.53,172.47L614.78,171.55L616.04,170.63L617.29,169.72L618.55,168.80L619.80,167.89L621.05,166.97L622.30,166.05L623.55,165.14L624.79,164.22L626.04,163.31L627.28,162.39L628.52,161.47L629.76,160.56L630.99,159.64L632.23,158.73L633.46,157.81L634.69,156.89L635.92,155.98L637.14,155.06L638.37,154.15L639.59,153.23L640.81,152.31L642.02,151.40L643.23,150.48L644.45,149.57L645.65,148.65L646.86,147.73L648.06,146.82L649.26,145.90L650.45,144.99L651.64,144.07L652.84,143.15L654.02,142.24L655.21,141.32L656.40,140.41L657.58,139.49L658.76,138.57L659.94,137.66L661.12,136.74L662.30,135.83L663.47,134.91L664.65,133.99L665.83,133.08L667.00,132.16L668.18,131.25L669.35,130.33L670.53,129.41L671.70,128.50L672.88,127.58L674.06,126.67L675.23,125.75L676.41,124.83L677.60,123.92L678.79,123.00L679.99,122.09L681.19,121.17L682.40,120.25L683.62,119.34L684.84,118.42L686.05,117.51L687.27,116.59L688.49,115.67L689.71,114.76L690.93,113.84L692.14,112.93L693.35,112.01L694.56,111.09L695.75,110.18L696.94,109.26L698.13,108.35L699.30,107.43L700.46,106.51L701.62,105.60L702.76,104.68L703.89,103.77L705.00,102.85L706.10,101.93L707.19,101.02L708.27,100.10L709.36,99.19L710.44,98.27L711.51,97.35L712.59,96.44L713.66,95.52L714.73,94.61L715.80,93.69L716.86,92.77L717.92,91.86L718.98,90.94L720.04,90.03L721.09,89.11L722.15,88.19L723.19,87.28L724.24,86.36L725.29,85.45L726.33,84.53L727.37,83.61L728.41,82.70L729.45,81.78L730.48,80.87L731.52,79.95L732.54,79.03L733.56,78.12L734.57,77.20L735.56,76.29L736.55,75.37L737.54,74.45L738.51,73.54L739.47,72.62L740.43,71.71L741.38,70.79L742.32,69.87L743.26,68.96L744.19,68.04L745.11,67.13L746.03,66.21L746.95,65.29L747.85,64.38L748.76,63.46L749.65,62.55L750.55,61.63L751.44,60.71L752.33,59.80L753.21,58.88L754.09,57.97L754.97,57.05" stroke="#0000ff" stroke-width="3.9" fill="none" stroke-linejoin="round" stroke-linecap="butt"/>
<path d="M322.69,367.30L323.89,366.66L325.61,365.74L327.32,364.83L329.03,363.91L330.74,362.99L332.45,362.08L334.16,361.16L335.86,360.25L337.55,359.33L339.25,358.41L340.94,357.50L342.63,356.58L344.31,355.67L346.00,354.75L347.67,353.83L349.35,352.92L351.02,352.00L352.69,351.09L354.35,350.17L356.01,349.25L357.67,348.34L359.33,347.42L360.98,346.51L362.63,345.59L364.28,344.67L365.92,343.76L367.57,342.84L369.21,341.93L370.84,341.01L372.48,340.09L374.11,339.18L375.74,338.26L377.36,337.35L378.98,336.43L380.60,335.51L382.21,334.60L383.82,333.68L385.43,332.77L387.03,331.85L388.63,330.93L390.23,330.02L391.82,329.10L393.40,328.19L394.99,327.27L396.56,326.35L398.14,325.44L399.71,324.52L401.27,323.61L402.84,322.69L404.39,321.77L405.95,320.86L407.50,319.94L409.04,319.03L410.59,318.11L412.13,317.19L413.66,316.28L415.20,315.36L416.73,314.45L418.26,313.53L419.78,312.61L421.31,311.70L422.83,310.78L424.34,309.87L425.86,308.95L427.38,308.03L428.89,307.12L430.40,306.20L431.91,305.29L433.42,304.37L434.93,303.45L436.43,302.54L437.94,301.62L439.44,300.71L440.95,299.79L442.45,298.87L443.95,297.96L445.46,297.04L446.96,296.13L448.47,295.21L449.97,294.29L451.48,293.38L452.98,292.46L454.49,291.55L455.99,290.63L457.49,289.71L458.99,288.80L460.48,287.88L461.98,286.97L463.47,286.05L464.96,285.13L466.45,284.22L467.94,283.30L469.42,282.39L470.90,281.47L472.38,280.55L473.85,279.64L475.32,278.72L476.79,277.81L478.25,276.89L479.71,275.97L481.16,275.06L482.61,274.14L484.06,273.23L485.50,272.31L486.94,271.39L488.37,270.48L489.80,269.56L491.23,268.65L492.66,267.73L494.08,266.81L495.50,265.90L496.92,264.98L498.34,264.07L499.75,263.15L501.17,262.23L502.58,261.32L503.98,260.40L505.39,259.49L506.80,258.57L508.20,257.65L509.60,256.74L511.00,255.82L512.40,254.91L513.80,253.99L515.20,253.07L516.60,252.16L518.00,251.24L519.40,250.33L520.79,249.41L522.19,248.49L523.59,247.58L524.98,246.66L526.38,245.75L527.78,244.83L529.17,243.91L530.57,243.00L531.96,242.08L533.35,241.17L534.75,240.25L536.14,239.33L537.53,238.42L538.92,237.50L540.31,236.59L541.70,235.67L543.08,234.75L544.47,233.84L545.85,232.92L547.23,232.01L548.61,231.09L549.99,230.17L551.37,229.26L552.75,228.34L554.12,227.43L555.49,226.51L556.86,225.59L558.23,224.68L559.60,223.76L560.97,222.85L562.33,221.93L563.70,221.01L565.07,220.10L566.44,219.18L567.80,218.27L569.17,217.35L570.53,216.43L571.89,215.52L573.25,214.60L574.61,213.69L575.97,212.77L577.33,211.85L578.68,210.94L580.03,210.02L581.38,209.11L582.73,208.19L584.07,207.27L585.42,206.36L586.75,205.44L588.09,204.53L589.42,203.61L590.75,202.69L592.07,201.78L593.39,200.86L594.71,199.95L596.02,199.03L597.33,198.11L598.64,197.20L599.94,196.28L601.25,195.37L602.54,194.45L603.84,193.53L605.14,192.62L606.43,191.70L607.72,190.79L609.00,189.87L610.29,188.95L611.57,188.04L612.85,187.12L614.13,186.21L615.41,185.29L616.68,184.37L617.95,183.46L619.23,182.54L620.50,181.63L621.76,180.71L623.03,179.79L624.30,178.88L625.56,177.96L626.83,177.05L628.09,176.13L629.35,175.21L630.61,174.30L631.87,173.38L633.13,172.47L634.38,171.55L635.64,170.63L636.89,169.72L638.15,168.80L639.40,167.89L640.65,166.97L641.90,166.05L643.15,165.14L644.39,164.22L645.64,163.31L646.88,162.39L648.12,161.47L649.36,160.56L650.59,159.64L651.83,158.73L653.06,157.81L654.29,156.89L655.52,155.98L656.74,155.06L657.97,154.15L659.19,153.23L660.41,152.31L661.62,151.40L662.83,150.48L664.05,149.57L665.25,148.65L666.46,147.73L667.66,146.82L668.86,145.90L670.05,144.99L671.24,144.07L672.44,143.15L673.62,142.24L674.81,141.32L676.00,140.41L677.18,139.49L678.36,138.57L679.54,137.66L680.72,136.74L681.90,135.83L683.07,134.91L684.25,133.99L685.43,133.08L686.60,132.16L687.78,131.25L688.95,130.33L690.13,129.41L691.30,128.50L692.48,127.58L693.66,126.67L694.83,125.75L696.01,124.83L697.20,123.92L698.39,123.00L699.59,122.09L700.79,121.17L702.00,120.25L703.22,119.34L704.44,118.42L705.65,117.51L706.87,116.59L708.09,115.67L709.31,114.76L710.53,113.84L711.74,112.93L712.95,112.01L714.16,111.09L715.35,110.18L716.54,109.26L717.73,108.35L718.90,107.43L720.06,106.51L721.22,105.60L722.36,104.68L723.49,103.77L724.60,102.85L725.70,101.93L726.79,101.02L727.87,100.10L728.96,99.19L730.04,98.27L731.11,97.35L732.19,96.44L733.26,95.52L734.33,94.61L735.40,93.69L736.46,92.77L737.52,91.86L738.58,90.94L739.64,90.03L740.69,89.11L741.75,88.19L742.79,87.28L743.84,86.36L744.89,85.45L745.93,84.53L746.97,83.61L748.01,82.70L749.05,81.78L750.08,80.87L751.12,79.95L752.14,79.03L753.16,78.12L754.17,77.20L755.16,76.29L756.15,75.37L757.14,74.45L758.11,73.54L759.07,72.62L760.03,71.71L760.98,70.79L761.92,69.87L762.86,68.96L763.79,68.04L764.71,67.13L765.63,66.21L766.55,65.29L767.45,64.38L768.36,63.46L769.25,62.55L770.15,61.63L771.04,60.71L771.93,59.80L772.81,58.88L773.69,57.97L774.57,57.05" stroke="#0000ff" stroke-width="3.9" fill="none" stroke-linejoin="round" stroke-linecap="butt"/>
<path d="M391.08,340.66L392.08,340.09L393.71,339.18L395.34,338.26L396.96,337.35L398.58,336.43L400.20,335.51L401.81,334.60L403.42,333.68L405.03,332.77L406.63,331.85L408.23,330.93L409.83,330.02L411.42,329.10L413.00,328.19L414.59,327.27L416.16,326.35L417.74,325.44L419.31,324.52L420.87,323.61L422.44,322.69L423.99,321.77L425.55,320.86L427.10,319.94L428.64,319.03L430.19,318.11L431.73,317.19L433.26,316.28L434.80,315.36L436.33,314.45L437.86,313.53L439.38,312.61L440.91,311.70L442.43,310.78L443.94,309.87L445.46,308.95L446.98,308.03L448.49,307.12L450.00,306.20L451.51,305.29L453.02,304.37L454.53,303.45L456.03,302.54L457.54,301.62L459.04,300.71L460.55,299.79L462.05,298.87L463.55,297.96L465.06,297.04L466.56,296.13L468.07,295.21L469.57,294.29L471.08,293.38L472.58,292.46L474.09,291.55L475.59,290.63L477.09,289.71L478.59,288.80L480.08,287.88L481.58,286.97L483.07,286.05L484.56,285.13L486.05,284.22L487.54,283.30L489.02,282.39L490.50,281.47L491.98,280.55L493.45,279.64L494.92,278.72L496.39,277.81L497.85,276.89L499.31,275.97L500.76,275.06L502.21,274.14L503.66,273.23L505.10,272.31L506.54,271.39L507.97,270.48L509.40,269.56L510.83,268.65L512.26,267.73L513.68,266.81L515.10,265.90L516.52,264.98L517.94,264.07L519.35,263.15L520.77,262.23L522.18,261.32L523.58,260.40L524.99,259.49L526.40,258.57L527.80,257.65L529.20,256.74L530.60,255.82L532.00,254.91L533.40,253.99L534.80,253.07L536.20,252.16L537.60,251.24L539.00,250.33L540.39,249.41L541.79,248.49L543.19,247.58L544.58,246.66L545.98,245.75L547.38,244.83L548.77,243.91L550.17,243.00L551.56,242.08L552.95,241.17L554.35,240.25L555.74,239.33L557.13,238.42L558.52,237.50L559.91,236.59L561.30,235.67L562.68,234.75L564.07,233.84L565.45,232.92L566.83,232.01L568.21,231.09L569.59,230.17L570.97,229.26L572.35,228.34L573.72,227.43L575.09,226.51L576.46,225.59L577.83,224.68L579.20,223.76L580.57,222.85L581.93,221.93L583.30,221.01L584.67,220.10L586.04,219.18L587.40,218.27L588.77,217.35L590.13,216.43L591.49,215.52L592.85,214.60L594.21,213.69L595.57,212.77L596.93,211.85L598.28,210.94L599.63,210.02L600.98,209.11L602.33,208.19L603.67,207.27L605.02,206.36L606.35,205.44L607.69,204.53L609.02,203.61L610.35,202.69L611.67,201.78L612.99,200.86L614.31,199.95L615.62,199.03L616.93,198.11L618.24,197.20L619.54,196.28L620.85,195.37L622.14,194.45L623.44,193.53L624.74,192.62L626.03,191.70L627.32,190.79L628.60,189.87L629.89,188.95L631.17,188.04L632.45,187.12L633.73,186.21L635.01,185.29L636.28,184.37L637.55,183.46L638.83,182.54L640.10,181.63L641.36,180.71L642.63,179.79L643.90,178.88L645.16,177.96L646.43,177.05L647.69,176.13L648.95,175.21L650.21,174.30L651.47,173.38L652.73,172.47L653.98,171.55L655.24,170.63L656.49,169.72L657.75,168.80L659.00,167.89L660.25,166.97L661.50,166.05L662.75,165.14L663.99,164.22L665.24,163.31L666.48,162.39L667.72,161.47L668.96,160.56L670.19,159.64L671.43,158.73L672.66,157.81L673.89,156.89L675.12,155.98L676.34,155.06L677.57,154.15L678.79,153.23L680.01,152.31L681.22,151.40L682.43,150.48L683.65,149.57L684.85,148.65L686.06,147.73L687.26,146.82L688.46,145.90L689.65,144.99L690.84,144.07L692.04,143.15L693.22,142.24L694.41,141.32L695.60,140.41L696.78,139.49L697.96,138.57L699.14,137.66L700.32,136.74L701.50,135.83L702.67,134.91L703.85,133.99L705.03,133.08L706.20,132.16L707.38,131.25L708.55,130.33L709.73,129.41L710.90,128.50L712.08,127.58L713.26,126.67L714.43,125.75L715.61,124.83L716.80,123.92L717.99,123.00L719.19,122.09L720.39,121.17L721.60,120.25L722.82,119.34L724.04,118.42L725.25,117.51L726.47,116.59L727.69,115.67L728.91,114.76L730.13,113.84L731.34,112.93L732.55,112.01L733.76,111.09L734.95,110.18L736.14,109.26L737.33,108.35L738.50,107.43L739.66,106.51L740.82,105.60L741.96,104.68L743.09,103.77L744.20,102.85L745.30,101.93L746.39,101.02L747.47,100.10L748.56,99.19L749.64,98.27L750.71,97.35L751.79,96.44L752.86,95.52L753.93,94.61L755.00,93.69L756.06,92.77L757.12,91.86L758.18,90.94L759.24,90.03L760.29,89.11L761.35,88.19L762.39,87.28L763.44,86.36L764.49,85.45L765.53,84.53L766.57,83.61L767.61,82.70L768.65,81.78L769.68,80.87L770.72,79.95L771.74,79.03L772.76,78.12L773.77,77.20L774.76,76.29L775.75,75.37L776.74,74.45L777.71,73.54L778.67,72.62L779.63,71.71L780.58,70.79L781.52,69.87L782.46,68.96L783.39,68.04L784.31,67.13L785.23,66.21L786.15,65.29L787.05,64.38L787.96,63.46L788.85,62.55L789.75,61.63L790.64,60.71L791.53,59.80L792.41,58.88L793.29,57.97L794.17,57.05" stroke="#0000ff" stroke-width="3.9" fill="none" stroke-linejoin="round" stroke-linecap="butt"/>
</g>
<text x="181.97" y="491.80" font-size="39.3" text-anchor="middle" fill="#262626" stroke="#262626" stroke-width="0.5" >550</text>
<text x="289.16" y="491.80" font-size="39.3" text-anchor="middle" fill="#262626" stroke="#262626" stroke-width="0.5" >600</text>
<text x="396.35" y="491.80" font-size="39.3" text-anchor="middle" fill="#262626" stroke="#262626" stroke-width="0.5" >650</text>
<text x="503.54" y="491.80" font-size="39.3" text-anchor="middle" fill="#262626" stroke="#262626" stroke-width="0.5" >700</text>
<text x="610.72" y="491.80" font-size="39.3" text-anchor="middle" fill="#262626" stroke="#262626" stroke-width="0.5" >750</text>
<text x="717.91" y="491.80" font-size="39.3" text-anchor="middle" fill="#262626" stroke="#262626" stroke-width="0.5" >800</text>
<text x="825.10" y="491.80" font-size="39.3" text-anchor="middle" fill="#262626" stroke="#262626" stroke-width="0.5" >850</text>
<text x="109.70" y="377.48" font-size="39.3" text-anchor="end" fill="#262626" stroke="#262626" stroke-width="0.5" >250</text>
<text x="109.70" y="275.71" font-size="39.3" text-anchor="end" fill="#262626" stroke="#262626" stroke-width="0.5" >300</text>
<text x="109.70" y="173.93" font-size="39.3" text-anchor="end" fill="#262626" stroke="#262626" stroke-width="0.5" >350</text>
<text x="109.70" y="72.15" font-size="39.3" text-anchor="end" fill="#262626" stroke="#262626" stroke-width="0.5" >400</text>
<text x="482.10" y="545.50" font-size="43.4" text-anchor="middle" fill="#262626" stroke="#262626" stroke-width="0.5" >Total entropy (J/kgK)</text>
<text transform="translate(29.80,240.25) rotate(-90)" font-size="43.4" text-anchor="middle" fill="#262626" stroke="#262626" stroke-width="0.5">Temperature (K)</text>
<path d="M1011.30,54.90V425.60" stroke="#262626" stroke-width="4.8" fill="none"/>
<path d="M1008.90,423.45H1699.45" stroke="#262626" stroke-width="4.3" fill="none"/>
<path d="M1032.34,423.45v9.25M1053.79,423.45v16.0M1075.23,423.45v9.25M1096.67,423.45v9.25M1118.12,423.45v9.25M1139.56,423.45v9.25M1161.01,423.45v16.0M1182.45,423.45v9.25M1203.89,423.45v9.25M1225.34,423.45v9.25M1246.78,423.45v9.25M1268.22,423.45v16.0M1289.67,423.45v9.25M1311.11,423.45v9.25M1332.56,423.45v9.25M1354.00,423.45v9.25M1375.44,423.45v16.0M1396.89,423.45v9.25M1418.33,423.45v9.25M1439.77,423.45v9.25M1461.22,423.45v9.25M1482.66,423.45v16.0M1504.11,423.45v9.25M1525.55,423.45v9.25M1546.99,423.45v9.25M1568.44,423.45v9.25M1589.88,423.45v16.0M1611.32,423.45v9.25M1632.77,423.45v9.25M1654.21,423.45v9.25M1675.66,423.45v9.25M1697.10,423.45v16.0" stroke="#262626" stroke-width="4.7" fill="none"/>
<path d="M1011.30,423.45v9.25" stroke="#262626" stroke-width="4.8" fill="none"/>
<path d="M1011.30,423.45H1002.00M1011.30,403.09H1002.00M1011.30,382.74H1002.00M1011.30,362.38H994.90M1011.30,342.03H1002.00M1011.30,321.67H1002.00M1011.30,301.32H1002.00M1011.30,280.96H1002.00M1011.30,260.61H994.90M1011.30,240.25H1002.00M1011.30,219.89H1002.00M1011.30,199.54H1002.00M1011.30,179.18H1002.00M1011.30,158.83H994.90M1011.30,138.47H1002.00M1011.30,118.12H1002.00M1011.30,97.76H1002.00M1011.30,77.41H1002.00M1011.30,57.05H994.90" stroke="#262626" stroke-width="4.3" fill="none"/>
<g>
<path d="M1532.36,96.90L1532.48,96.80L1532.60,96.70L1532.72,96.61L1532.85,96.51L1532.97,96.41L1533.09,96.31L1533.21,96.21L1533.34,96.11L1533.46,96.02L1533.58,95.92L1533.71,95.82L1533.83,95.72L1533.95,95.62L1534.08,95.52L1534.20,95.43L1534.33,95.33L1534.45,95.23L1534.58,95.13L1534.71,95.03L1534.83,94.93L1534.96,94.84L1535.09,94.74L1535.22,94.64L1535.34,94.54L1535.47,94.44L1535.60,94.34L1535.73,94.25L1535.86,94.15L1535.99,94.05L1536.12,93.95L1536.26,93.85L1536.39,93.75L1536.52,93.66L1536.65,93.56L1536.79,93.46L1536.92,93.36L1537.06,93.26L1537.20,93.16L1537.33,93.07L1537.47,92.97L1537.61,92.87L1537.75,92.77L1537.89,92.67L1538.03,92.57L1538.18,92.48L1538.32,92.38L1538.47,92.28L1538.61,92.18L1538.76,92.08L1538.91,91.98L1539.06,91.89L1539.21,91.79L1539.36,91.69L1539.52,91.59L1539.68,91.49L1539.83,91.39L1539.99,91.30L1540.16,91.20L1540.32,91.10L1540.49,91.00L1540.65,90.90L1540.82,90.80L1541.00,90.71L1541.17,90.61L1541.35,90.51L1541.53,90.41L1541.71,90.31L1541.90,90.21L1542.09,90.12L1542.28,90.02L1542.48,89.92L1542.68,89.82L1542.89,89.72L1543.10,89.62L1543.31,89.53L1543.53,89.43L1543.75,89.33L1543.98,89.23L1544.21,89.13L1544.45,89.03L1544.70,88.94L1544.95,88.84L1545.21,88.74L1545.47,88.64L1545.75,88.54L1546.03,88.44L1546.32,88.35L1546.62,88.25L1546.92,88.15L1547.24,88.05L1547.57,87.95L1547.91,87.85L1548.26,87.76L1548.62,87.66L1549.00,87.56L1549.39,87.46L1549.79,87.36L1550.21,87.26L1550.64,87.17L1551.09,87.07L1551.55,86.97L1552.04,86.87L1552.54,86.77L1553.06,86.67L1553.60,86.58L1554.17,86.48L1554.75,86.38L1555.36,86.28L1555.99,86.18L1556.65,86.08L1557.33,85.99L1558.03,85.89L1558.76,85.79L1559.52,85.69L1560.31,85.59L1561.12,85.49L1561.96,85.40L1562.83,85.30L1563.73,85.20L1564.65,85.10L1565.61,85.00L1566.59,84.90L1567.60,84.81L1568.63,84.71L1569.69,84.61L1570.77,84.51L1571.88,84.41L1573.01,84.31L1574.17,84.22L1575.34,84.12L1576.53,84.02L1577.74,83.92L1578.97,83.82L1580.21,83.72L1581.46,83.63L1582.73,83.53L1584.01,83.43L1585.29,83.33L1586.59,83.23L1587.89,83.13L1589.19,83.04L1590.50,82.94L1591.82,82.84L1593.13,82.74L1594.45,82.64L1595.77,82.54L1597.09,82.45L1598.41,82.35L1599.73,82.25L1601.05,82.15L1602.37,82.05L1603.69,81.95L1605.01,81.86L1606.33,81.76L1607.65,81.66L1608.97,81.56L1610.28,81.46L1611.59,81.36L1612.89,81.27L1614.19,81.17L1615.49,81.07L1616.77,80.97L1618.05,80.87L1619.31,80.77L1620.57,80.68L1621.81,80.58L1623.03,80.48L1624.24,80.38L1625.43,80.28L1626.60,80.18L1627.75,80.09L1628.88,79.99L1629.99,79.89L1631.07,79.79L1632.13,79.69L1633.16,79.59L1634.17,79.50L1635.14,79.40L1636.10,79.30L1637.02,79.20L1637.91,79.10L1638.78,79.00L1639.62,78.91L1640.43,78.81L1641.21,78.71L1641.97,78.61L1642.70,78.51L1643.40,78.41L1644.08,78.32L1644.73,78.22L1645.36,78.12L1645.96,78.02L1646.55,77.92L1647.11,77.82L1647.65,77.73L1648.16,77.63L1648.66,77.53L1649.15,77.43L1649.61,77.33L1650.05,77.23L1650.48,77.14L1650.90,77.04L1651.30,76.94L1651.68,76.84L1652.05,76.74L1652.41,76.64L1652.76,76.55L1653.09,76.45L1653.42,76.35L1653.73,76.25L1654.04,76.15L1654.33,76.05L1654.62,75.96L1654.90,75.86L1655.16,75.76L1655.43,75.66L1655.68,75.56L1655.93,75.46L1656.17,75.37L1656.41,75.27L1656.64,75.17L1656.86,75.07L1657.08,74.97L1657.29,74.87L1657.50,74.78L1657.71,74.68L1657.91,74.58L1658.10,74.48L1658.29,74.38L1658.48,74.28L1658.67,74.19L1658.85,74.09L1659.03,73.99L1659.21,73.89L1659.38,73.79L1659.55,73.69L1659.72,73.60L1659.88,73.50L1660.05,73.40L1660.21,73.30L1660.36,73.20L1660.52,73.10L1660.68,73.01L1660.83,72.91L1660.98,72.81L1661.13,72.71L1661.28,72.61L1661.42,72.51L1661.57,72.42L1661.71,72.32L1661.85,72.22L1662.00,72.12L1662.14,72.02L1662.27,71.92L1662.41,71.83L1662.55,71.73L1662.68,71.63L1662.82,71.53L1662.95,71.43L1663.08,71.33L1663.21,71.24L1663.34,71.14L1663.47,71.04L1663.60,70.94L1663.73,70.84L1663.86,70.74L1663.99,70.65L1664.11,70.55L1664.24,70.45L1664.36,70.35L1664.49,70.25L1664.61,70.15L1664.74,70.06L1664.86,69.96L1664.98,69.86L1665.10,69.76L1665.22,69.66L1665.35,69.56L1665.47,69.47L1665.59,69.37L1665.71,69.27L1665.83,69.17L1665.94,69.07L1666.06,68.97L1666.18,68.88L1666.30,68.78L1666.42,68.68L1666.53,68.58L1666.65,68.48L1666.77,68.38L1666.88,68.29L1667.00,68.19L1667.12,68.09L1667.23,67.99L1667.35,67.89L1667.46,67.79L1667.58,67.70L1667.69,67.60L1667.80,67.50" stroke="#ff0000" stroke-width="3.8" fill="none" stroke-linejoin="round" stroke-linecap="butt"/>
<path d="M1486.63,135.00L1486.76,134.90L1486.89,134.80L1487.02,134.71L1487.15,134.61L1487.28,134.51L1487.41,134.41L1487.54,134.31L1487.67,134.21L1487.80,134.12L1487.93,134.02L1488.06,133.92L1488.19,133.82L1488.33,133.72L1488.46,133.62L1488.59,133.53L1488.72,133.43L1488.86,133.33L1488.99,133.23L1489.12,133.13L1489.26,133.03L1489.39,132.94L1489.53,132.84L1489.66,132.74L1489.80,132.64L1489.94,132.54L1490.07,132.44L1490.21,132.35L1490.35,132.25L1490.49,132.15L1490.63,132.05L1490.77,131.95L1490.91,131.85L1491.05,131.76L1491.19,131.66L1491.33,131.56L1491.48,131.46L1491.62,131.36L1491.76,131.26L1491.91,131.17L1492.06,131.07L1492.20,130.97L1492.35,130.87L1492.50,130.77L1492.65,130.67L1492.80,130.58L1492.95,130.48L1493.11,130.38L1493.26,130.28L1493.42,130.18L1493.57,130.08L1493.73,129.99L1493.89,129.89L1494.05,129.79L1494.22,129.69L1494.38,129.59L1494.55,129.49L1494.72,129.40L1494.89,129.30L1495.06,129.20L1495.23,129.10L1495.41,129.00L1495.59,128.90L1495.77,128.81L1495.95,128.71L1496.14,128.61L1496.33,128.51L1496.52,128.41L1496.71,128.31L1496.91,128.22L1497.12,128.12L1497.32,128.02L1497.53,127.92L1497.74,127.82L1497.96,127.72L1498.18,127.63L1498.41,127.53L1498.64,127.43L1498.88,127.33L1499.12,127.23L1499.37,127.13L1499.62,127.04L1499.88,126.94L1500.15,126.84L1500.43,126.74L1500.71,126.64L1501.00,126.54L1501.30,126.45L1501.61,126.35L1501.92,126.25L1502.25,126.15L1502.59,126.05L1502.94,125.95L1503.30,125.86L1503.67,125.76L1504.05,125.66L1504.45,125.56L1504.86,125.46L1505.29,125.36L1505.73,125.27L1506.19,125.17L1506.67,125.07L1507.16,124.97L1507.68,124.87L1508.21,124.77L1508.76,124.68L1509.33,124.58L1509.93,124.48L1510.55,124.38L1511.19,124.28L1511.86,124.18L1512.55,124.09L1513.27,123.99L1514.01,123.89L1514.78,123.79L1515.58,123.69L1516.40,123.59L1517.26,123.50L1518.14,123.40L1519.05,123.30L1519.99,123.20L1520.95,123.10L1521.95,123.00L1522.97,122.91L1524.01,122.81L1525.09,122.71L1526.18,122.61L1527.31,122.51L1528.45,122.41L1529.62,122.32L1530.81,122.22L1532.01,122.12L1533.24,122.02L1534.48,121.92L1535.73,121.82L1537.00,121.73L1538.28,121.63L1539.57,121.53L1540.87,121.43L1542.18,121.33L1543.50,121.23L1544.82,121.14L1546.14,121.04L1547.47,120.94L1548.80,120.84L1550.13,120.74L1551.47,120.64L1552.80,120.55L1554.13,120.45L1555.47,120.35L1556.80,120.25L1558.14,120.15L1559.47,120.05L1560.81,119.96L1562.14,119.86L1563.47,119.76L1564.80,119.66L1566.13,119.56L1567.45,119.46L1568.77,119.37L1570.08,119.27L1571.39,119.17L1572.69,119.07L1573.98,118.97L1575.25,118.87L1576.52,118.78L1577.77,118.68L1579.01,118.58L1580.23,118.48L1581.44,118.38L1582.62,118.28L1583.78,118.19L1584.93,118.09L1586.04,117.99L1587.14,117.89L1588.21,117.79L1589.25,117.69L1590.27,117.60L1591.26,117.50L1592.22,117.40L1593.15,117.30L1594.06,117.20L1594.94,117.10L1595.79,117.01L1596.61,116.91L1597.40,116.81L1598.17,116.71L1598.91,116.61L1599.62,116.51L1600.31,116.42L1600.97,116.32L1601.61,116.22L1602.23,116.12L1602.82,116.02L1603.39,115.92L1603.94,115.83L1604.46,115.73L1604.97,115.63L1605.46,115.53L1605.94,115.43L1606.39,115.33L1606.83,115.24L1607.25,115.14L1607.66,115.04L1608.05,114.94L1608.43,114.84L1608.80,114.74L1609.16,114.65L1609.50,114.55L1609.84,114.45L1610.16,114.35L1610.47,114.25L1610.77,114.15L1611.07,114.06L1611.35,113.96L1611.63,113.86L1611.90,113.76L1612.17,113.66L1612.42,113.56L1612.67,113.47L1612.92,113.37L1613.15,113.27L1613.39,113.17L1613.61,113.07L1613.83,112.97L1614.05,112.88L1614.26,112.78L1614.47,112.68L1614.68,112.58L1614.88,112.48L1615.08,112.38L1615.27,112.29L1615.46,112.19L1615.65,112.09L1615.83,111.99L1616.01,111.89L1616.19,111.79L1616.37,111.70L1616.54,111.60L1616.71,111.50L1616.88,111.40L1617.05,111.30L1617.21,111.20L1617.38,111.11L1617.54,111.01L1617.70,110.91L1617.85,110.81L1618.01,110.71L1618.17,110.61L1618.32,110.52L1618.47,110.42L1618.62,110.32L1618.77,110.22L1618.92,110.12L1619.06,110.02L1619.21,109.93L1619.35,109.83L1619.50,109.73L1619.64,109.63L1619.78,109.53L1619.92,109.43L1620.06,109.34L1620.20,109.24L1620.34,109.14L1620.48,109.04L1620.61,108.94L1620.75,108.84L1620.88,108.75L1621.02,108.65L1621.15,108.55L1621.29,108.45L1621.42,108.35L1621.55,108.25L1621.68,108.16L1621.81,108.06L1621.94,107.96L1622.07,107.86L1622.20,107.76L1622.33,107.66L1622.46,107.57L1622.59,107.47L1622.72,107.37L1622.85,107.27L1622.97,107.17L1623.10,107.07L1623.23,106.98L1623.35,106.88L1623.48,106.78L1623.60,106.68L1623.73,106.58L1623.85,106.48L1623.98,106.39L1624.10,106.29L1624.23,106.19L1624.35,106.09L1624.47,105.99L1624.60,105.89L1624.72,105.80L1624.84,105.70L1624.97,105.60" stroke="#ff0000" stroke-width="3.8" fill="none" stroke-linejoin="round" stroke-linecap="butt"/>
<path d="M1438.83,173.90L1438.96,173.80L1439.09,173.70L1439.22,173.61L1439.35,173.51L1439.48,173.41L1439.62,173.31L1439.75,173.21L1439.88,173.11L1440.01,173.02L1440.15,172.92L1440.28,172.82L1440.41,172.72L1440.55,172.62L1440.68,172.52L1440.81,172.43L1440.95,172.33L1441.08,172.23L1441.22,172.13L1441.35,172.03L1441.49,171.93L1441.63,171.84L1441.76,171.74L1441.90,171.64L1442.04,171.54L1442.18,171.44L1442.32,171.34L1442.45,171.25L1442.59,171.15L1442.73,171.05L1442.88,170.95L1443.02,170.85L1443.16,170.75L1443.30,170.66L1443.44,170.56L1443.59,170.46L1443.73,170.36L1443.88,170.26L1444.02,170.16L1444.17,170.07L1444.32,169.97L1444.47,169.87L1444.62,169.77L1444.77,169.67L1444.92,169.57L1445.07,169.48L1445.23,169.38L1445.38,169.28L1445.54,169.18L1445.70,169.08L1445.86,168.98L1446.02,168.89L1446.18,168.79L1446.34,168.69L1446.51,168.59L1446.67,168.49L1446.84,168.39L1447.01,168.30L1447.18,168.20L1447.36,168.10L1447.53,168.00L1447.71,167.90L1447.89,167.80L1448.07,167.71L1448.26,167.61L1448.45,167.51L1448.64,167.41L1448.83,167.31L1449.03,167.21L1449.23,167.12L1449.44,167.02L1449.64,166.92L1449.86,166.82L1450.07,166.72L1450.29,166.62L1450.52,166.53L1450.75,166.43L1450.98,166.33L1451.22,166.23L1451.46,166.13L1451.72,166.03L1451.97,165.94L1452.24,165.84L1452.51,165.74L1452.78,165.64L1453.07,165.54L1453.36,165.44L1453.67,165.35L1453.98,165.25L1454.30,165.15L1454.63,165.05L1454.97,164.95L1455.32,164.85L1455.68,164.76L1456.06,164.66L1456.45,164.56L1456.85,164.46L1457.27,164.36L1457.70,164.26L1458.14,164.17L1458.61,164.07L1459.09,163.97L1459.59,163.87L1460.11,163.77L1460.64,163.67L1461.20,163.58L1461.78,163.48L1462.38,163.38L1463.01,163.28L1463.65,163.18L1464.33,163.08L1465.02,162.99L1465.75,162.89L1466.50,162.79L1467.27,162.69L1468.08,162.59L1468.91,162.49L1469.77,162.40L1470.66,162.30L1471.58,162.20L1472.52,162.10L1473.50,162.00L1474.50,161.90L1475.53,161.81L1476.59,161.71L1477.67,161.61L1478.78,161.51L1479.91,161.41L1481.06,161.31L1482.24,161.22L1483.44,161.12L1484.65,161.02L1485.89,160.92L1487.14,160.82L1488.40,160.72L1489.68,160.63L1490.98,160.53L1492.28,160.43L1493.59,160.33L1494.91,160.23L1496.24,160.13L1497.57,160.04L1498.91,159.94L1500.25,159.84L1501.59,159.74L1502.93,159.64L1504.28,159.54L1505.63,159.45L1506.97,159.35L1508.32,159.25L1509.67,159.15L1511.02,159.05L1512.36,158.95L1513.71,158.86L1515.05,158.76L1516.40,158.66L1517.74,158.56L1519.08,158.46L1520.42,158.36L1521.75,158.27L1523.08,158.17L1524.40,158.07L1525.71,157.97L1527.01,157.87L1528.30,157.77L1529.58,157.68L1530.85,157.58L1532.10,157.48L1533.34,157.38L1534.55,157.28L1535.75,157.18L1536.93,157.09L1538.08,156.99L1539.21,156.89L1540.32,156.79L1541.40,156.69L1542.46,156.59L1543.49,156.50L1544.49,156.40L1545.46,156.30L1546.41,156.20L1547.32,156.10L1548.21,156.00L1549.07,155.91L1549.90,155.81L1550.71,155.71L1551.49,155.61L1552.23,155.51L1552.96,155.41L1553.66,155.32L1554.33,155.22L1554.97,155.12L1555.60,155.02L1556.20,154.92L1556.78,154.82L1557.33,154.73L1557.87,154.63L1558.39,154.53L1558.89,154.43L1559.37,154.33L1559.83,154.23L1560.27,154.14L1560.70,154.04L1561.12,153.94L1561.52,153.84L1561.91,153.74L1562.28,153.64L1562.65,153.55L1563.00,153.45L1563.34,153.35L1563.66,153.25L1563.98,153.15L1564.29,153.05L1564.59,152.96L1564.88,152.86L1565.17,152.76L1565.44,152.66L1565.71,152.56L1565.98,152.46L1566.23,152.37L1566.48,152.27L1566.72,152.17L1566.96,152.07L1567.19,151.97L1567.42,151.87L1567.64,151.78L1567.86,151.68L1568.08,151.58L1568.29,151.48L1568.49,151.38L1568.69,151.28L1568.89,151.19L1569.09,151.09L1569.28,150.99L1569.47,150.89L1569.65,150.79L1569.84,150.69L1570.02,150.60L1570.20,150.50L1570.37,150.40L1570.55,150.30L1570.72,150.20L1570.89,150.10L1571.06,150.01L1571.22,149.91L1571.38,149.81L1571.55,149.71L1571.71,149.61L1571.87,149.51L1572.02,149.42L1572.18,149.32L1572.33,149.22L1572.49,149.12L1572.64,149.02L1572.79,148.92L1572.94,148.83L1573.09,148.73L1573.24,148.63L1573.39,148.53L1573.53,148.43L1573.68,148.33L1573.82,148.24L1573.96,148.14L1574.11,148.04L1574.25,147.94L1574.39,147.84L1574.53,147.74L1574.67,147.65L1574.81,147.55L1574.94,147.45L1575.08,147.35L1575.22,147.25L1575.35,147.15L1575.49,147.06L1575.63,146.96L1575.76,146.86L1575.89,146.76L1576.03,146.66L1576.16,146.56L1576.29,146.47L1576.43,146.37L1576.56,146.27L1576.69,146.17L1576.82,146.07L1576.95,145.97L1577.08,145.88L1577.21,145.78L1577.34,145.68L1577.47,145.58L1577.60,145.48L1577.73,145.38L1577.86,145.29L1577.99,145.19L1578.12,145.09L1578.24,144.99L1578.37,144.89L1578.50,144.79L1578.63,144.70L1578.75,144.60L1578.88,144.50" stroke="#ff0000" stroke-width="3.8" fill="none" stroke-linejoin="round" stroke-linecap="butt"/>
<path d="M1389.58,212.30L1389.71,212.20L1389.85,212.10L1389.99,212.01L1390.13,211.91L1390.27,211.81L1390.41,211.71L1390.55,211.61L1390.68,211.51L1390.82,211.42L1390.96,211.32L1391.10,211.22L1391.24,211.12L1391.38,211.02L1391.53,210.92L1391.67,210.83L1391.81,210.73L1391.95,210.63L1392.09,210.53L1392.23,210.43L1392.38,210.33L1392.52,210.24L1392.66,210.14L1392.81,210.04L1392.95,209.94L1393.10,209.84L1393.24,209.74L1393.39,209.65L1393.54,209.55L1393.68,209.45L1393.83,209.35L1393.98,209.25L1394.13,209.15L1394.28,209.06L1394.43,208.96L1394.58,208.86L1394.73,208.76L1394.88,208.66L1395.04,208.56L1395.19,208.47L1395.34,208.37L1395.50,208.27L1395.66,208.17L1395.81,208.07L1395.97,207.97L1396.13,207.88L1396.29,207.78L1396.45,207.68L1396.62,207.58L1396.78,207.48L1396.95,207.38L1397.11,207.29L1397.28,207.19L1397.45,207.09L1397.62,206.99L1397.80,206.89L1397.97,206.79L1398.15,206.70L1398.33,206.60L1398.51,206.50L1398.69,206.40L1398.87,206.30L1399.06,206.20L1399.25,206.11L1399.44,206.01L1399.64,205.91L1399.83,205.81L1400.03,205.71L1400.24,205.61L1400.45,205.52L1400.66,205.42L1400.87,205.32L1401.09,205.22L1401.31,205.12L1401.54,205.02L1401.77,204.93L1402.00,204.83L1402.24,204.73L1402.49,204.63L1402.74,204.53L1403.00,204.43L1403.26,204.34L1403.53,204.24L1403.80,204.14L1404.09,204.04L1404.38,203.94L1404.68,203.84L1404.99,203.75L1405.30,203.65L1405.63,203.55L1405.96,203.45L1406.31,203.35L1406.67,203.25L1407.03,203.16L1407.42,203.06L1407.81,202.96L1408.22,202.86L1408.64,202.76L1409.07,202.66L1409.53,202.57L1409.99,202.47L1410.48,202.37L1410.98,202.27L1411.50,202.17L1412.05,202.07L1412.61,201.98L1413.19,201.88L1413.80,201.78L1414.42,201.68L1415.08,201.58L1415.75,201.48L1416.45,201.39L1417.18,201.29L1417.93,201.19L1418.71,201.09L1419.52,200.99L1420.35,200.89L1421.22,200.80L1422.11,200.70L1423.03,200.60L1423.98,200.50L1424.95,200.40L1425.96,200.30L1426.99,200.21L1428.04,200.11L1429.13,200.01L1430.24,199.91L1431.37,199.81L1432.52,199.71L1433.70,199.62L1434.90,199.52L1436.12,199.42L1437.35,199.32L1438.60,199.22L1439.87,199.12L1441.15,199.03L1442.44,198.93L1443.74,198.83L1445.06,198.73L1446.38,198.63L1447.70,198.53L1449.04,198.44L1450.37,198.34L1451.71,198.24L1453.06,198.14L1454.40,198.04L1455.75,197.94L1457.09,197.85L1458.44,197.75L1459.79,197.65L1461.14,197.55L1462.48,197.45L1463.83,197.35L1465.18,197.26L1466.52,197.16L1467.87,197.06L1469.21,196.96L1470.55,196.86L1471.89,196.76L1473.22,196.67L1474.55,196.57L1475.87,196.47L1477.18,196.37L1478.49,196.27L1479.78,196.17L1481.06,196.08L1482.33,195.98L1483.58,195.88L1484.82,195.78L1486.03,195.68L1487.23,195.58L1488.41,195.49L1489.57,195.39L1490.70,195.29L1491.81,195.19L1492.90,195.09L1493.95,194.99L1494.99,194.90L1495.99,194.80L1496.97,194.70L1497.91,194.60L1498.84,194.50L1499.73,194.40L1500.59,194.31L1501.43,194.21L1502.24,194.11L1503.02,194.01L1503.77,193.91L1504.50,193.81L1505.20,193.72L1505.88,193.62L1506.53,193.52L1507.16,193.42L1507.76,193.32L1508.35,193.22L1508.91,193.13L1509.45,193.03L1509.97,192.93L1510.48,192.83L1510.96,192.73L1511.43,192.63L1511.88,192.54L1512.32,192.44L1512.74,192.34L1513.15,192.24L1513.54,192.14L1513.92,192.04L1514.29,191.95L1514.65,191.85L1515.00,191.75L1515.33,191.65L1515.66,191.55L1515.97,191.45L1516.28,191.36L1516.58,191.26L1516.87,191.16L1517.15,191.06L1517.43,190.96L1517.70,190.86L1517.96,190.77L1518.22,190.67L1518.47,190.57L1518.71,190.47L1518.95,190.37L1519.19,190.27L1519.42,190.18L1519.64,190.08L1519.86,189.98L1520.08,189.88L1520.29,189.78L1520.50,189.68L1520.71,189.59L1520.91,189.49L1521.11,189.39L1521.31,189.29L1521.50,189.19L1521.69,189.09L1521.88,189.00L1522.07,188.90L1522.25,188.80L1522.43,188.70L1522.61,188.60L1522.79,188.50L1522.96,188.41L1523.13,188.31L1523.31,188.21L1523.48,188.11L1523.64,188.01L1523.81,187.91L1523.98,187.82L1524.14,187.72L1524.30,187.62L1524.46,187.52L1524.62,187.42L1524.78,187.32L1524.94,187.23L1525.09,187.13L1525.25,187.03L1525.40,186.93L1525.56,186.83L1525.71,186.73L1525.86,186.64L1526.01,186.54L1526.16,186.44L1526.31,186.34L1526.46,186.24L1526.61,186.14L1526.75,186.05L1526.90,185.95L1527.05,185.85L1527.19,185.75L1527.34,185.65L1527.48,185.55L1527.62,185.46L1527.77,185.36L1527.91,185.26L1528.05,185.16L1528.19,185.06L1528.33,184.96L1528.47,184.87L1528.61,184.77L1528.75,184.67L1528.89,184.57L1529.03,184.47L1529.17,184.37L1529.30,184.28L1529.44,184.18L1529.58,184.08L1529.72,183.98L1529.85,183.88L1529.99,183.78L1530.13,183.69L1530.26,183.59L1530.40,183.49L1530.53,183.39L1530.67,183.29L1530.80,183.19L1530.94,183.10L1531.07,183.00L1531.20,182.90" stroke="#ff0000" stroke-width="3.8" fill="none" stroke-linejoin="round" stroke-linecap="butt"/>
<path d="M1336.38,251.40L1336.53,251.30L1336.67,251.20L1336.82,251.11L1336.97,251.01L1337.12,250.91L1337.26,250.81L1337.41,250.71L1337.56,250.61L1337.71,250.52L1337.85,250.42L1338.00,250.32L1338.15,250.22L1338.30,250.12L1338.45,250.02L1338.60,249.93L1338.75,249.83L1338.90,249.73L1339.05,249.63L1339.20,249.53L1339.35,249.43L1339.50,249.34L1339.65,249.24L1339.81,249.14L1339.96,249.04L1340.11,248.94L1340.26,248.84L1340.42,248.75L1340.57,248.65L1340.73,248.55L1340.88,248.45L1341.04,248.35L1341.20,248.25L1341.35,248.16L1341.51,248.06L1341.67,247.96L1341.83,247.86L1341.99,247.76L1342.15,247.66L1342.31,247.57L1342.48,247.47L1342.64,247.37L1342.80,247.27L1342.97,247.17L1343.14,247.07L1343.30,246.98L1343.47,246.88L1343.64,246.78L1343.81,246.68L1343.98,246.58L1344.16,246.48L1344.33,246.39L1344.51,246.29L1344.69,246.19L1344.87,246.09L1345.05,245.99L1345.23,245.89L1345.41,245.80L1345.60,245.70L1345.79,245.60L1345.98,245.50L1346.17,245.40L1346.37,245.30L1346.56,245.21L1346.76,245.11L1346.96,245.01L1347.17,244.91L1347.38,244.81L1347.59,244.71L1347.80,244.62L1348.02,244.52L1348.24,244.42L1348.47,244.32L1348.70,244.22L1348.93,244.12L1349.17,244.03L1349.41,243.93L1349.66,243.83L1349.91,243.73L1350.17,243.63L1350.44,243.53L1350.71,243.44L1350.98,243.34L1351.27,243.24L1351.56,243.14L1351.85,243.04L1352.16,242.94L1352.47,242.85L1352.80,242.75L1353.13,242.65L1353.47,242.55L1353.83,242.45L1354.19,242.35L1354.56,242.26L1354.95,242.16L1355.35,242.06L1355.77,241.96L1356.19,241.86L1356.64,241.76L1357.09,241.67L1357.57,241.57L1358.06,241.47L1358.57,241.37L1359.10,241.27L1359.64,241.17L1360.21,241.08L1360.80,240.98L1361.41,240.88L1362.04,240.78L1362.70,240.68L1363.38,240.58L1364.08,240.49L1364.82,240.39L1365.57,240.29L1366.36,240.19L1367.17,240.09L1368.01,239.99L1368.87,239.90L1369.77,239.80L1370.69,239.70L1371.64,239.60L1372.62,239.50L1373.62,239.40L1374.66,239.31L1375.72,239.21L1376.80,239.11L1377.91,239.01L1379.05,238.91L1380.20,238.81L1381.38,238.72L1382.58,238.62L1383.80,238.52L1385.04,238.42L1386.29,238.32L1387.56,238.22L1388.84,238.13L1390.13,238.03L1391.43,237.93L1392.75,237.83L1394.07,237.73L1395.39,237.63L1396.73,237.54L1398.06,237.44L1399.40,237.34L1400.75,237.24L1402.09,237.14L1403.44,237.04L1404.78,236.95L1406.13,236.85L1407.48,236.75L1408.83,236.65L1410.17,236.55L1411.52,236.45L1412.87,236.36L1414.21,236.26L1415.56,236.16L1416.90,236.06L1418.24,235.96L1419.58,235.86L1420.91,235.77L1422.24,235.67L1423.56,235.57L1424.87,235.47L1426.17,235.37L1427.47,235.27L1428.75,235.18L1430.02,235.08L1431.27,234.98L1432.50,234.88L1433.72,234.78L1434.92,234.68L1436.10,234.59L1437.26,234.49L1438.39,234.39L1439.50,234.29L1440.59,234.19L1441.65,234.09L1442.68,234.00L1443.69,233.90L1444.66,233.80L1445.62,233.70L1446.54,233.60L1447.43,233.50L1448.30,233.41L1449.14,233.31L1449.95,233.21L1450.73,233.11L1451.49,233.01L1452.22,232.91L1452.92,232.82L1453.60,232.72L1454.26,232.62L1454.89,232.52L1455.50,232.42L1456.09,232.32L1456.66,232.23L1457.20,232.13L1457.73,232.03L1458.24,231.93L1458.73,231.83L1459.20,231.73L1459.66,231.64L1460.10,231.54L1460.53,231.44L1460.94,231.34L1461.34,231.24L1461.73,231.14L1462.10,231.05L1462.46,230.95L1462.81,230.85L1463.16,230.75L1463.49,230.65L1463.81,230.55L1464.12,230.46L1464.43,230.36L1464.72,230.26L1465.01,230.16L1465.29,230.06L1465.57,229.96L1465.84,229.87L1466.10,229.77L1466.36,229.67L1466.61,229.57L1466.85,229.47L1467.10,229.37L1467.33,229.28L1467.56,229.18L1467.79,229.08L1468.01,228.98L1468.23,228.88L1468.45,228.78L1468.66,228.69L1468.87,228.59L1469.08,228.49L1469.28,228.39L1469.48,228.29L1469.68,228.19L1469.87,228.10L1470.07,228.00L1470.26,227.90L1470.44,227.80L1470.63,227.70L1470.81,227.60L1471.00,227.51L1471.18,227.41L1471.35,227.31L1471.53,227.21L1471.71,227.11L1471.88,227.01L1472.05,226.92L1472.22,226.82L1472.39,226.72L1472.56,226.62L1472.73,226.52L1472.89,226.42L1473.06,226.33L1473.22,226.23L1473.38,226.13L1473.54,226.03L1473.70,225.93L1473.86,225.83L1474.02,225.74L1474.18,225.64L1474.34,225.54L1474.49,225.44L1474.65,225.34L1474.80,225.24L1474.96,225.15L1475.11,225.05L1475.26,224.95L1475.41,224.85L1475.57,224.75L1475.72,224.65L1475.87,224.56L1476.02,224.46L1476.17,224.36L1476.31,224.26L1476.46,224.16L1476.61,224.06L1476.76,223.97L1476.91,223.87L1477.05,223.77L1477.20,223.67L1477.34,223.57L1477.49,223.47L1477.64,223.38L1477.78,223.28L1477.92,223.18L1478.07,223.08L1478.21,222.98L1478.36,222.88L1478.50,222.79L1478.64,222.69L1478.78,222.59L1478.93,222.49L1479.07,222.39L1479.21,222.29L1479.35,222.20L1479.49,222.10L1479.64,222.00" stroke="#ff0000" stroke-width="3.8" fill="none" stroke-linejoin="round" stroke-linecap="butt"/>
<path d="M1279.44,289.70L1279.60,289.60L1279.76,289.50L1279.92,289.41L1280.08,289.31L1280.24,289.21L1280.40,289.11L1280.56,289.01L1280.72,288.91L1280.88,288.82L1281.04,288.72L1281.20,288.62L1281.36,288.52L1281.52,288.42L1281.68,288.32L1281.85,288.23L1282.01,288.13L1282.17,288.03L1282.33,287.93L1282.50,287.83L1282.66,287.73L1282.83,287.64L1282.99,287.54L1283.16,287.44L1283.32,287.34L1283.49,287.24L1283.65,287.14L1283.82,287.05L1283.99,286.95L1284.16,286.85L1284.33,286.75L1284.49,286.65L1284.66,286.55L1284.84,286.46L1285.01,286.36L1285.18,286.26L1285.35,286.16L1285.52,286.06L1285.70,285.96L1285.87,285.87L1286.05,285.77L1286.23,285.67L1286.40,285.57L1286.58,285.47L1286.76,285.37L1286.94,285.28L1287.12,285.18L1287.31,285.08L1287.49,284.98L1287.68,284.88L1287.86,284.78L1288.05,284.69L1288.24,284.59L1288.43,284.49L1288.62,284.39L1288.82,284.29L1289.01,284.19L1289.21,284.10L1289.41,284.00L1289.61,283.90L1289.82,283.80L1290.02,283.70L1290.23,283.60L1290.44,283.51L1290.65,283.41L1290.87,283.31L1291.09,283.21L1291.31,283.11L1291.53,283.01L1291.76,282.92L1291.99,282.82L1292.23,282.72L1292.47,282.62L1292.71,282.52L1292.96,282.42L1293.21,282.33L1293.47,282.23L1293.73,282.13L1293.99,282.03L1294.26,281.93L1294.54,281.83L1294.83,281.74L1295.12,281.64L1295.41,281.54L1295.72,281.44L1296.03,281.34L1296.35,281.24L1296.68,281.15L1297.01,281.05L1297.36,280.95L1297.72,280.85L1298.08,280.75L1298.46,280.65L1298.85,280.56L1299.25,280.46L1299.67,280.36L1300.09,280.26L1300.53,280.16L1300.99,280.06L1301.46,279.97L1301.95,279.87L1302.46,279.77L1302.98,279.67L1303.52,279.57L1304.08,279.47L1304.67,279.38L1305.27,279.28L1305.89,279.18L1306.54,279.08L1307.21,278.98L1307.91,278.88L1308.63,278.79L1309.37,278.69L1310.14,278.59L1310.94,278.49L1311.77,278.39L1312.62,278.29L1313.51,278.20L1314.42,278.10L1315.35,278.00L1316.32,277.90L1317.31,277.80L1318.33,277.70L1319.38,277.61L1320.46,277.51L1321.56,277.41L1322.69,277.31L1323.84,277.21L1325.01,277.11L1326.20,277.02L1327.42,276.92L1328.65,276.82L1329.90,276.72L1331.17,276.62L1332.45,276.52L1333.75,276.43L1335.06,276.33L1336.38,276.23L1337.71,276.13L1339.04,276.03L1340.38,275.93L1341.73,275.84L1343.08,275.74L1344.44,275.64L1345.80,275.54L1347.16,275.44L1348.52,275.34L1349.88,275.25L1351.24,275.15L1352.61,275.05L1353.97,274.95L1355.33,274.85L1356.69,274.75L1358.05,274.66L1359.41,274.56L1360.77,274.46L1362.13,274.36L1363.49,274.26L1364.84,274.16L1366.18,274.07L1367.53,273.97L1368.86,273.87L1370.19,273.77L1371.50,273.67L1372.81,273.57L1374.11,273.48L1375.39,273.38L1376.65,273.28L1377.90,273.18L1379.14,273.08L1380.35,272.98L1381.54,272.89L1382.71,272.79L1383.86,272.69L1384.98,272.59L1386.08,272.49L1387.15,272.39L1388.20,272.30L1389.22,272.20L1390.21,272.10L1391.17,272.00L1392.11,271.90L1393.01,271.80L1393.89,271.71L1394.74,271.61L1395.57,271.51L1396.36,271.41L1397.13,271.31L1397.87,271.21L1398.59,271.12L1399.28,271.02L1399.95,270.92L1400.59,270.82L1401.21,270.72L1401.81,270.62L1402.39,270.53L1402.95,270.43L1403.48,270.33L1404.00,270.23L1404.50,270.13L1404.99,270.03L1405.46,269.94L1405.91,269.84L1406.35,269.74L1406.77,269.64L1407.18,269.54L1407.58,269.44L1407.96,269.35L1408.33,269.25L1408.70,269.15L1409.05,269.05L1409.39,268.95L1409.72,268.85L1410.04,268.76L1410.36,268.66L1410.67,268.56L1410.97,268.46L1411.26,268.36L1411.54,268.26L1411.82,268.17L1412.09,268.07L1412.36,267.97L1412.62,267.87L1412.88,267.77L1413.13,267.67L1413.38,267.58L1413.62,267.48L1413.86,267.38L1414.09,267.28L1414.32,267.18L1414.54,267.08L1414.77,266.99L1414.99,266.89L1415.20,266.79L1415.41,266.69L1415.62,266.59L1415.83,266.49L1416.04,266.40L1416.24,266.30L1416.44,266.20L1416.64,266.10L1416.83,266.00L1417.03,265.90L1417.22,265.81L1417.41,265.71L1417.60,265.61L1417.78,265.51L1417.97,265.41L1418.15,265.31L1418.33,265.22L1418.51,265.12L1418.69,265.02L1418.87,264.92L1419.04,264.82L1419.22,264.72L1419.39,264.63L1419.57,264.53L1419.74,264.43L1419.91,264.33L1420.08,264.23L1420.25,264.13L1420.42,264.04L1420.58,263.94L1420.75,263.84L1420.92,263.74L1421.08,263.64L1421.25,263.54L1421.41,263.45L1421.57,263.35L1421.73,263.25L1421.89,263.15L1422.06,263.05L1422.22,262.95L1422.38,262.86L1422.54,262.76L1422.69,262.66L1422.85,262.56L1423.01,262.46L1423.17,262.36L1423.32,262.27L1423.48,262.17L1423.64,262.07L1423.79,261.97L1423.95,261.87L1424.10,261.77L1424.26,261.68L1424.41,261.58L1424.56,261.48L1424.72,261.38L1424.87,261.28L1425.02,261.18L1425.17,261.09L1425.33,260.99L1425.48,260.89L1425.63,260.79L1425.78,260.69L1425.93,260.59L1426.08,260.50L1426.23,260.40L1426.38,260.30" stroke="#ff0000" stroke-width="3.8" fill="none" stroke-linejoin="round" stroke-linecap="butt"/>
<path d="M1220.34,327.90L1220.51,327.80L1220.67,327.70L1220.84,327.61L1221.01,327.51L1221.17,327.41L1221.34,327.31L1221.51,327.21L1221.67,327.11L1221.84,327.02L1222.01,326.92L1222.18,326.82L1222.35,326.72L1222.51,326.62L1222.68,326.52L1222.85,326.43L1223.02,326.33L1223.19,326.23L1223.36,326.13L1223.53,326.03L1223.70,325.93L1223.87,325.84L1224.04,325.74L1224.22,325.64L1224.39,325.54L1224.56,325.44L1224.73,325.34L1224.91,325.25L1225.08,325.15L1225.25,325.05L1225.43,324.95L1225.61,324.85L1225.78,324.75L1225.96,324.66L1226.14,324.56L1226.31,324.46L1226.49,324.36L1226.67,324.26L1226.85,324.16L1227.03,324.07L1227.21,323.97L1227.40,323.87L1227.58,323.77L1227.76,323.67L1227.95,323.57L1228.14,323.48L1228.32,323.38L1228.51,323.28L1228.70,323.18L1228.89,323.08L1229.08,322.98L1229.28,322.89L1229.47,322.79L1229.67,322.69L1229.87,322.59L1230.07,322.49L1230.27,322.39L1230.47,322.30L1230.68,322.20L1230.88,322.10L1231.09,322.00L1231.30,321.90L1231.52,321.80L1231.73,321.71L1231.95,321.61L1232.17,321.51L1232.40,321.41L1232.62,321.31L1232.85,321.21L1233.09,321.12L1233.32,321.02L1233.56,320.92L1233.81,320.82L1234.06,320.72L1234.31,320.62L1234.56,320.53L1234.83,320.43L1235.09,320.33L1235.36,320.23L1235.64,320.13L1235.92,320.03L1236.21,319.94L1236.51,319.84L1236.81,319.74L1237.12,319.64L1237.43,319.54L1237.76,319.44L1238.09,319.35L1238.43,319.25L1238.79,319.15L1239.15,319.05L1239.52,318.95L1239.90,318.85L1240.29,318.76L1240.70,318.66L1241.12,318.56L1241.55,318.46L1242.00,318.36L1242.46,318.26L1242.94,318.17L1243.43,318.07L1243.94,317.97L1244.47,317.87L1245.02,317.77L1245.58,317.67L1246.17,317.58L1246.78,317.48L1247.41,317.38L1248.06,317.28L1248.73,317.18L1249.43,317.08L1250.16,316.99L1250.91,316.89L1251.69,316.79L1252.49,316.69L1253.32,316.59L1254.18,316.49L1255.07,316.40L1255.98,316.30L1256.93,316.20L1257.90,316.10L1258.90,316.00L1259.93,315.90L1260.98,315.81L1262.06,315.71L1263.17,315.61L1264.30,315.51L1265.45,315.41L1266.63,315.31L1267.83,315.22L1269.06,315.12L1270.30,315.02L1271.55,314.92L1272.83,314.82L1274.12,314.72L1275.42,314.63L1276.74,314.53L1278.06,314.43L1279.40,314.33L1280.74,314.23L1282.09,314.13L1283.44,314.04L1284.80,313.94L1286.17,313.84L1287.53,313.74L1288.90,313.64L1290.27,313.54L1291.64,313.45L1293.01,313.35L1294.38,313.25L1295.75,313.15L1297.12,313.05L1298.49,312.95L1299.86,312.86L1301.23,312.76L1302.60,312.66L1303.96,312.56L1305.33,312.46L1306.69,312.36L1308.04,312.27L1309.39,312.17L1310.74,312.07L1312.07,311.97L1313.40,311.87L1314.71,311.77L1316.02,311.68L1317.31,311.58L1318.58,311.48L1319.84,311.38L1321.08,311.28L1322.31,311.18L1323.51,311.09L1324.69,310.99L1325.84,310.89L1326.98,310.79L1328.08,310.69L1329.17,310.59L1330.22,310.50L1331.25,310.40L1332.25,310.30L1333.22,310.20L1334.16,310.10L1335.08,310.00L1335.97,309.91L1336.83,309.81L1337.66,309.71L1338.46,309.61L1339.24,309.51L1339.99,309.41L1340.72,309.32L1341.42,309.22L1342.10,309.12L1342.75,309.02L1343.38,308.92L1343.99,308.82L1344.57,308.73L1345.14,308.63L1345.69,308.53L1346.21,308.43L1346.72,308.33L1347.22,308.23L1347.69,308.14L1348.15,308.04L1348.60,307.94L1349.03,307.84L1349.45,307.74L1349.86,307.64L1350.25,307.55L1350.63,307.45L1351.00,307.35L1351.36,307.25L1351.71,307.15L1352.05,307.05L1352.38,306.96L1352.71,306.86L1353.02,306.76L1353.33,306.66L1353.63,306.56L1353.92,306.46L1354.21,306.37L1354.49,306.27L1354.77,306.17L1355.03,306.07L1355.30,305.97L1355.56,305.87L1355.81,305.78L1356.06,305.68L1356.31,305.58L1356.55,305.48L1356.79,305.38L1357.02,305.28L1357.25,305.19L1357.48,305.09L1357.70,304.99L1357.92,304.89L1358.14,304.79L1358.35,304.69L1358.57,304.60L1358.78,304.50L1358.98,304.40L1359.19,304.30L1359.39,304.20L1359.59,304.10L1359.79,304.01L1359.99,303.91L1360.19,303.81L1360.38,303.71L1360.57,303.61L1360.76,303.51L1360.95,303.42L1361.14,303.32L1361.33,303.22L1361.51,303.12L1361.70,303.02L1361.88,302.92L1362.06,302.83L1362.24,302.73L1362.42,302.63L1362.60,302.53L1362.78,302.43L1362.95,302.33L1363.13,302.24L1363.30,302.14L1363.48,302.04L1363.65,301.94L1363.82,301.84L1363.99,301.74L1364.16,301.65L1364.33,301.55L1364.50,301.45L1364.67,301.35L1364.84,301.25L1365.01,301.15L1365.17,301.06L1365.34,300.96L1365.51,300.86L1365.67,300.76L1365.84,300.66L1366.00,300.56L1366.16,300.47L1366.33,300.37L1366.49,300.27L1366.65,300.17L1366.82,300.07L1366.98,299.97L1367.14,299.88L1367.30,299.78L1367.46,299.68L1367.62,299.58L1367.78,299.48L1367.94,299.38L1368.10,299.29L1368.26,299.19L1368.42,299.09L1368.58,298.99L1368.74,298.89L1368.90,298.79L1369.05,298.70L1369.21,298.60L1369.37,298.50" stroke="#ff0000" stroke-width="3.8" fill="none" stroke-linejoin="round" stroke-linecap="butt"/>
<path d="M1052.49,423.45L1054.25,422.53L1056.01,421.62L1057.77,420.70L1059.53,419.79L1061.28,418.87L1063.02,417.95L1064.77,417.04L1066.51,416.12L1068.25,415.21L1069.98,414.29L1071.71,413.37L1073.43,412.46L1075.16,411.54L1076.88,410.63L1078.59,409.71L1080.30,408.79L1082.01,407.88L1083.72,406.96L1085.42,406.05L1087.12,405.13L1088.81,404.21L1090.51,403.30L1092.19,402.38L1093.88,401.47L1095.56,400.55L1097.24,399.63L1098.91,398.72L1100.59,397.80L1102.25,396.89L1103.92,395.97L1105.58,395.05L1107.24,394.14L1108.90,393.22L1110.55,392.31L1112.20,391.39L1113.85,390.47L1115.49,389.56L1117.13,388.64L1118.77,387.73L1120.40,386.81L1122.03,385.89L1123.66,384.98L1125.28,384.06L1126.90,383.15L1128.52,382.23L1130.14,381.31L1131.75,380.40L1133.36,379.48L1134.96,378.57L1136.56,377.65L1138.16,376.73L1139.76,375.82L1141.35,374.90L1142.94,373.99L1144.53,373.07L1146.12,372.15L1147.70,371.24L1149.28,370.32L1150.85,369.41L1152.42,368.49L1153.99,367.57L1155.55,366.66L1157.11,365.74L1158.67,364.83L1160.22,363.91L1161.77,362.99L1163.32,362.08L1164.87,361.16L1166.41,360.25L1167.95,359.33L1169.49,358.41L1171.02,357.50L1172.56,356.58L1174.09,355.67L1175.62,354.75L1177.15,353.83L1178.68,352.92L1180.21,352.00L1181.74,351.09L1183.27,350.17L1184.79,349.25L1186.32,348.34L1187.85,347.42L1189.38,346.51L1190.90,345.59L1192.42,344.67L1193.95,343.76L1195.47,342.84L1196.99,341.93L1198.51,341.01L1200.02,340.09L1201.54,339.18L1203.05,338.26L1204.56,337.35L1206.07,336.43L1207.57,335.51L1209.07,334.60L1210.57,333.68L1212.06,332.77L1213.56,331.85L1215.04,330.93L1216.53,330.02L1218.01,329.10L1219.48,328.19L1220.96,327.27L1222.42,326.35L1223.89,325.44L1225.34,324.52L1226.80,323.61L1228.25,322.69L1229.70,321.77L1231.14,320.86L1232.58,319.94L1234.01,319.03L1235.45,318.11L1236.88,317.19L1238.30,316.28L1239.73,315.36L1241.15,314.45L1242.57,313.53L1243.98,312.61L1245.39,311.70L1246.81,310.78L1248.22,309.87L1249.62,308.95L1251.03,308.03L1252.43,307.12L1253.83,306.20L1255.23,305.29L1256.63,304.37L1258.03,303.45L1259.43,302.54L1260.82,301.62L1262.22,300.71L1263.61,299.79L1265.01,298.87L1266.41,297.96L1267.81,297.04L1269.21,296.13L1270.61,295.21L1272.01,294.29L1273.41,293.38L1274.81,292.46L1276.22,291.55L1277.62,290.63L1279.02,289.71L1280.42,288.80L1281.83,287.88L1283.23,286.97L1284.63,286.05L1286.02,285.13L1287.42,284.22L1288.82,283.30L1290.21,282.39L1291.60,281.47L1292.99,280.55L1294.37,279.64L1295.75,278.72L1297.13,277.81L1298.51,276.89L1299.88,275.97L1301.25,275.06L1302.62,274.14L1303.99,273.23L1305.35,272.31L1306.72,271.39L1308.09,270.48L1309.46,269.56L1310.82,268.65L1312.18,267.73L1313.55,266.81L1314.91,265.90L1316.27,264.98L1317.62,264.07L1318.98,263.15L1320.33,262.23L1321.67,261.32L1323.02,260.40L1324.36,259.49L1325.70,258.57L1327.03,257.65L1328.35,256.74L1329.68,255.82L1330.99,254.91L1332.31,253.99L1333.61,253.07L1334.91,252.16L1336.21,251.24L1337.50,250.33L1338.78,249.41L1340.06,248.49L1341.34,247.58L1342.61,246.66L1343.89,245.75L1345.16,244.83L1346.43,243.91L1347.70,243.00L1348.96,242.08L1350.23,241.17L1351.49,240.25L1352.75,239.33L1354.01,238.42L1355.27,237.50L1356.53,236.59L1357.78,235.67L1359.03,234.75L1360.28,233.84L1361.53,232.92L1362.78,232.01L1364.02,231.09L1365.27,230.17L1366.51,229.26L1367.75,228.34L1368.99,227.43L1370.22,226.51L1371.46,225.59L1372.69,224.68L1373.92,223.76L1375.15,222.85L1376.38,221.93L1377.60,221.01L1378.83,220.10L1380.05,219.18L1381.27,218.27L1382.49,217.35L1383.71,216.43L1384.92,215.52L1386.14,214.60L1387.35,213.69L1388.56,212.77L1389.77,211.85L1390.97,210.94L1392.18,210.02L1393.38,209.11L1394.59,208.19L1395.79,207.27L1396.98,206.36L1398.18,205.44L1399.38,204.53L1400.57,203.61L1401.76,202.69L1402.95,201.78L1404.14,200.86L1405.33,199.95L1406.52,199.03L1407.70,198.11L1408.88,197.20L1410.06,196.28L1411.24,195.37L1412.42,194.45L1413.60,193.53L1414.77,192.62L1415.94,191.70L1417.11,190.79L1418.28,189.87L1419.45,188.95L1420.62,188.04L1421.78,187.12L1422.95,186.21L1424.11,185.29L1425.27,184.37L1426.43,183.46L1427.59,182.54L1428.74,181.63L1429.90,180.71L1431.05,179.79L1432.20,178.88L1433.35,177.96L1434.50,177.05L1435.64,176.13L1436.79,175.21L1437.93,174.30L1439.07,173.38L1440.22,172.47L1441.36,171.55L1442.49,170.63L1443.63,169.72L1444.77,168.80L1445.90,167.89L1447.04,166.97L1448.17,166.05L1449.30,165.14L1450.43,164.22L1451.56,163.31L1452.69,162.39L1453.82,161.47L1454.94,160.56L1456.07,159.64L1457.19,158.73L1458.31,157.81L1459.43,156.89L1460.55,155.98L1461.67,155.06L1462.79,154.15L1463.90,153.23L1465.02,152.31L1466.13,151.40L1467.25,150.48L1468.36,149.57L1469.47,148.65L1470.59,147.73L1471.70,146.82L1472.82,145.90L1473.95,144.99L1475.07,144.07L1476.19,143.15L1477.32,142.24L1478.44,141.32L1479.57,140.41L1480.70,139.49L1481.83,138.57L1482.96,137.66L1484.09,136.74L1485.21,135.83L1486.34,134.91L1487.47,133.99L1488.59,133.08L1489.72,132.16L1490.84,131.25L1491.97,130.33L1493.09,129.41L1494.21,128.50L1495.32,127.58L1496.44,126.67L1497.55,125.75L1498.66,124.83L1499.77,123.92L1500.88,123.00L1501.99,122.09L1503.10,121.17L1504.21,120.25L1505.33,119.34L1506.44,118.42L1507.55,117.51L1508.66,116.59L1509.77,115.67L1510.88,114.76L1511.98,113.84L1513.09,112.93L1514.19,112.01L1515.29,111.09L1516.39,110.18L1517.49,109.26L1518.58,108.35L1519.67,107.43L1520.76,106.51L1521.84,105.60L1522.92,104.68L1523.99,103.77L1525.06,102.85L1526.13,101.93L1527.19,101.02L1528.26,100.10L1529.32,99.19L1530.38,98.27L1531.44,97.35L1532.50,96.44L1533.55,95.52L1534.61,94.61L1535.66,93.69L1536.71,92.77L1537.76,91.86L1538.80,90.94L1539.85,90.03L1540.89,89.11L1541.92,88.19L1542.96,87.28L1543.99,86.36L1545.02,85.45L1546.05,84.53L1547.07,83.61L1548.09,82.70L1549.11,81.78L1550.12,80.87L1551.13,79.95L1552.13,79.03L1553.14,78.12L1554.14,77.20L1555.14,76.29L1556.14,75.37L1557.15,74.45L1558.14,73.54L1559.14,72.62L1560.14,71.71L1561.13,70.79L1562.13,69.87L1563.12,68.96L1564.11,68.04L1565.11,67.13L1566.10,66.21L1567.08,65.29L1568.07,64.38L1569.06,63.46L1570.04,62.55L1571.03,61.63L1572.01,60.71L1572.99,59.80L1573.97,58.88L1574.95,57.97L1575.93,57.05" stroke="#0000ff" stroke-width="3.9" fill="none" stroke-linejoin="round" stroke-linecap="butt"/>
<path d="M1052.49,423.45L1054.26,422.53L1056.02,421.62L1057.78,420.70L1059.53,419.79L1061.28,418.87L1063.03,417.95L1064.77,417.04L1066.51,416.12L1068.25,415.21L1069.99,414.29L1071.72,413.37L1073.44,412.46L1075.16,411.54L1076.88,410.63L1078.60,409.71L1080.31,408.79L1082.02,407.88L1083.73,406.96L1085.43,406.05L1087.13,405.13L1088.82,404.21L1090.52,403.30L1092.21,402.38L1093.89,401.47L1095.58,400.55L1097.25,399.63L1098.93,398.72L1100.60,397.80L1102.27,396.89L1103.94,395.97L1105.60,395.05L1107.26,394.14L1108.92,393.22L1110.58,392.31L1112.23,391.39L1113.88,390.47L1115.52,389.56L1117.16,388.64L1118.80,387.73L1120.44,386.81L1122.07,385.89L1123.71,384.98L1125.33,384.06L1126.96,383.15L1128.58,382.23L1130.20,381.31L1131.82,380.40L1133.44,379.48L1135.06,378.57L1136.67,377.65L1138.28,376.73L1139.89,375.82L1141.50,374.90L1143.11,373.99L1144.73,373.07L1146.34,372.15L1147.96,371.24L1149.58,370.32L1151.20,369.41L1152.84,368.49L1154.49,367.57L1156.16,366.66L1157.85,365.74L1159.59,364.83L1161.38,363.91L1163.26,362.99L1165.27,362.08L1167.47,361.16L1169.99,360.25L1172.99,359.33L1176.76,358.41L1181.72,357.50L1188.38,356.58L1197.08,355.67L1207.67,354.75L1219.39,353.83L1231.45,352.92L1243.49,352.00L1255.08,351.09L1265.37,350.17L1273.70,349.25L1280.02,348.34L1284.73,347.42L1288.33,346.51L1291.21,345.59L1293.65,344.67L1295.79,343.76L1297.75,342.84L1299.59,341.93L1301.34,341.01L1303.03,340.09L1304.68,339.18L1306.29,338.26L1307.89,337.35L1309.46,336.43L1311.02,335.51L1312.57,334.60L1314.10,333.68L1315.63,332.77L1317.15,331.85L1318.66,330.93L1320.17,330.02L1321.67,329.10L1323.16,328.19L1324.65,327.27L1326.13,326.35L1327.61,325.44L1329.08,324.52L1330.55,323.61L1332.01,322.69L1333.48,321.77L1334.94,320.86L1336.40,319.94L1337.85,319.03L1339.30,318.11L1340.76,317.19L1342.20,316.28L1343.65,315.36L1345.09,314.45L1346.53,313.53L1347.97,312.61L1349.41,311.70L1350.84,310.78L1352.27,309.87L1353.70,308.95L1355.12,308.03L1356.55,307.12L1357.96,306.20L1359.38,305.29L1360.79,304.37L1362.20,303.45L1363.61,302.54L1365.01,301.62L1366.41,300.71L1367.80,299.79L1369.20,298.87L1370.59,297.96L1371.99,297.04L1373.39,296.13L1374.78,295.21L1376.18,294.29L1377.57,293.38L1378.96,292.46L1380.36,291.55L1381.75,290.63L1383.14,289.71L1384.53,288.80L1385.92,287.88L1387.31,286.97L1388.69,286.05L1390.08,285.13L1391.46,284.22L1392.84,283.30L1394.22,282.39L1395.59,281.47L1396.97,280.55L1398.34,279.64L1399.71,278.72L1401.07,277.81L1402.43,276.89L1403.79,275.97L1405.15,275.06L1406.50,274.14L1407.86,273.23L1409.21,272.31L1410.56,271.39L1411.91,270.48L1413.26,269.56L1414.60,268.65L1415.95,267.73L1417.29,266.81L1418.63,265.90L1419.97,264.98L1421.31,264.07L1422.64,263.15L1423.98,262.23L1425.31,261.32L1426.63,260.40L1427.96,259.49L1429.28,258.57L1430.59,257.65L1431.91,256.74L1433.22,255.82L1434.52,254.91L1435.83,253.99L1437.12,253.07L1438.42,252.16L1439.71,251.24L1440.99,250.33L1442.28,249.41L1443.56,248.49L1444.84,247.58L1446.12,246.66L1447.39,245.75L1448.67,244.83L1449.94,243.91L1451.22,243.00L1452.49,242.08L1453.76,241.17L1455.03,240.25L1456.29,239.33L1457.56,238.42L1458.83,237.50L1460.09,236.59L1461.35,235.67L1462.61,234.75L1463.87,233.84L1465.13,232.92L1466.39,232.01L1467.65,231.09L1468.90,230.17L1470.15,229.26L1471.41,228.34L1472.66,227.43L1473.90,226.51L1475.15,225.59L1476.40,224.68L1477.64,223.76L1478.89,222.85L1480.13,221.93L1481.37,221.01L1482.61,220.10L1483.84,219.18L1485.08,218.27L1486.31,217.35L1487.55,216.43L1488.78,215.52L1490.01,214.60L1491.24,213.69L1492.46,212.77L1493.69,211.85L1494.91,210.94L1496.14,210.02L1497.36,209.11L1498.58,208.19L1499.79,207.27L1501.01,206.36L1502.23,205.44L1503.44,204.53L1504.65,203.61L1505.86,202.69L1507.07,201.78L1508.28,200.86L1509.48,199.95L1510.68,199.03L1511.89,198.11L1513.09,197.20L1514.29,196.28L1515.48,195.37L1516.68,194.45L1517.87,193.53L1519.06,192.62L1520.25,191.70L1521.44,190.79L1522.63,189.87L1523.81,188.95L1525.00,188.04L1526.18,187.12L1527.36,186.21L1528.54,185.29L1529.71,184.37L1530.89,183.46L1532.06,182.54L1533.23,181.63L1534.40,180.71L1535.57,179.79L1536.74,178.88L1537.90,177.96L1539.06,177.05L1540.22,176.13L1541.38,175.21L1542.54,174.30L1543.69,173.38L1544.85,172.47L1546.00,171.55L1547.15,170.63L1548.30,169.72L1549.45,168.80L1550.59,167.89L1551.74,166.97L1552.88,166.05L1554.02,165.14L1555.16,164.22L1556.30,163.31L1557.44,162.39L1558.57,161.47L1559.70,160.56L1560.83,159.64L1561.96,158.73L1563.09,157.81L1564.22,156.89L1565.34,155.98L1566.46,155.06L1567.58,154.15L1568.70,153.23L1569.82,152.31L1570.93,151.40L1572.04,150.48L1573.16,149.57L1574.27,148.65L1575.37,147.73L1576.48,146.82L1577.59,145.90L1578.69,144.99L1579.80,144.07L1580.90,143.15L1582.00,142.24L1583.10,141.32L1584.20,140.41L1585.30,139.49L1586.40,138.57L1587.50,137.66L1588.59,136.74L1589.69,135.83L1590.78,134.91L1591.87,133.99L1592.97,133.08L1594.06,132.16L1595.15,131.25L1596.24,130.33L1597.32,129.41L1598.41,128.50L1599.50,127.58L1600.59,126.67L1601.67,125.75L1602.75,124.83L1603.84,123.92L1604.92,123.00L1606.00,122.09L1607.09,121.17L1608.17,120.25L1609.25,119.34L1610.33,118.42L1611.41,117.51L1612.49,116.59L1613.56,115.67L1614.64,114.76L1615.72,113.84L1616.79,112.93L1617.87,112.01L1618.94,111.09L1620.01,110.18L1621.09,109.26L1622.16,108.35L1623.23,107.43L1624.30,106.51L1625.36,105.60L1626.43,104.68L1627.50,103.77L1628.56,102.85L1629.63,101.93L1630.69,101.02L1631.76,100.10L1632.82,99.19L1633.88,98.27L1634.94,97.35L1636.00,96.44L1637.05,95.52L1638.11,94.61L1639.16,93.69L1640.21,92.77L1641.26,91.86L1642.30,90.94L1643.35,90.03L1644.39,89.11L1645.42,88.19L1646.46,87.28L1647.49,86.36L1648.52,85.45L1649.55,84.53L1650.57,83.61L1651.59,82.70L1652.61,81.78L1653.62,80.87L1654.63,79.95L1655.63,79.03L1656.64,78.12L1657.64,77.20L1658.64,76.29L1659.64,75.37L1660.65,74.45L1661.64,73.54L1662.64,72.62L1663.64,71.71L1664.63,70.79L1665.63,69.87L1666.62,68.96L1667.61,68.04L1668.61,67.13L1669.60,66.21L1670.58,65.29L1671.57,64.38L1672.56,63.46L1673.54,62.55L1674.53,61.63L1675.51,60.71L1676.49,59.80L1677.47,58.88L1678.45,57.97L1679.43,57.05" stroke="#0000ff" stroke-width="3.9" fill="none" stroke-linejoin="round" stroke-linecap="butt"/>
<path d="M1508.61,116.63L1508.67,116.59L1510.02,115.67L1511.36,114.76L1512.70,113.84L1514.03,112.93L1515.36,112.01L1516.69,111.09L1518.02,110.18L1519.34,109.26L1520.66,108.35L1521.98,107.43L1523.30,106.51L1524.61,105.60L1525.93,104.68L1527.24,103.77L1528.55,102.85L1529.86,101.93L1531.16,101.02L1532.46,100.10L1533.76,99.19L1535.05,98.27L1536.33,97.35L1537.61,96.44L1538.89,95.52L1540.16,94.61L1541.43,93.69L1542.70,92.77L1543.97,91.86L1545.24,90.94L1546.50,90.03L1547.77,89.11L1549.03,88.19L1550.30,87.28L1551.57,86.36L1552.84,85.45L1554.11,84.53L1555.38,83.61L1556.66,82.70L1557.93,81.78L1559.22,80.87L1560.51,79.95L1561.80,79.03L1563.09,78.12L1564.38,77.20L1565.68,76.29L1566.98,75.37L1568.28,74.45L1569.59,73.54L1570.90,72.62L1572.21,71.71L1573.52,70.79L1574.83,69.87L1576.15,68.96L1577.47,68.04L1578.79,67.13L1580.12,66.21L1581.44,65.29L1582.77,64.38L1584.11,63.46L1585.44,62.55L1586.78,61.63L1588.12,60.71L1589.47,59.80L1590.81,58.88L1592.16,57.97L1593.51,57.05" stroke="#0000ff" stroke-width="3.9" fill="none" stroke-linejoin="round" stroke-linecap="butt"/>
<path d="M1323.84,259.84L1324.43,259.49L1325.95,258.57L1327.47,257.65L1328.98,256.74L1330.50,255.82L1332.01,254.91L1333.53,253.99L1335.04,253.07L1336.55,252.16L1338.07,251.24L1339.58,250.33L1341.09,249.41L1342.62,248.49L1344.14,247.58L1345.68,246.66L1347.22,245.75L1348.76,244.83L1350.31,243.91L1351.86,243.00L1353.41,242.08L1354.97,241.17L1356.53,240.25L1358.09,239.33L1359.65,238.42L1361.21,237.50L1362.77,236.59L1364.33,235.67L1365.89,234.75L1367.45,233.84L1369.00,232.92L1370.55,232.01L1372.10,231.09L1373.64,230.17L1375.18,229.26L1376.71,228.34L1378.24,227.43L1379.76,226.51L1381.28,225.59L1382.78,224.68L1384.28,223.76L1385.78,222.85L1387.27,221.93L1388.76,221.01L1390.25,220.10L1391.73,219.18L1393.21,218.27L1394.69,217.35L1396.16,216.43L1397.63,215.52L1399.10,214.60L1400.56,213.69L1402.03,212.77L1403.49,211.85L1404.95,210.94L1406.41,210.02L1407.87,209.11L1409.32,208.19L1410.78,207.27L1412.23,206.36L1413.69,205.44L1415.14,204.53L1416.59,203.61L1418.05,202.69L1419.50,201.78L1420.96,200.86L1422.41,199.95L1423.87,199.03L1425.32,198.11L1426.78,197.20L1428.24,196.28L1429.69,195.37L1431.15,194.45L1432.61,193.53L1434.07,192.62L1435.52,191.70L1436.98,190.79L1438.44,189.87L1439.90,188.95L1441.35,188.04L1442.81,187.12L1444.27,186.21L1445.72,185.29L1447.18,184.37L1448.64,183.46L1450.09,182.54L1451.55,181.63L1453.00,180.71L1454.46,179.79L1455.91,178.88L1457.36,177.96L1458.81,177.05L1460.27,176.13L1461.72,175.21L1463.17,174.30L1464.62,173.38L1466.07,172.47L1467.52,171.55L1468.98,170.63L1470.43,169.72L1471.89,168.80L1473.34,167.89L1474.80,166.97L1476.25,166.05L1477.70,165.14L1479.15,164.22L1480.60,163.31L1482.04,162.39L1483.48,161.47L1484.92,160.56L1486.36,159.64L1487.79,158.73L1489.22,157.81L1490.64,156.89L1492.06,155.98L1493.47,155.06L1494.88,154.15L1496.29,153.23L1497.68,152.31L1499.07,151.40L1500.46,150.48L1501.83,149.57L1503.21,148.65L1504.58,147.73L1505.94,146.82L1507.30,145.90L1508.66,144.99L1510.02,144.07L1511.37,143.15L1512.72,142.24L1514.07,141.32L1515.42,140.41L1516.76,139.49L1518.10,138.57L1519.44,137.66L1520.78,136.74L1522.12,135.83L1523.46,134.91L1524.80,133.99L1526.14,133.08L1527.47,132.16L1528.81,131.25L1530.15,130.33L1531.49,129.41L1532.83,128.50L1534.17,127.58L1535.51,126.67L1536.85,125.75L1538.19,124.83L1539.54,123.92L1540.88,123.00L1542.22,122.09L1543.55,121.17L1544.89,120.25L1546.23,119.34L1547.56,118.42L1548.89,117.51L1550.22,116.59L1551.55,115.67L1552.88,114.76L1554.20,113.84L1555.53,112.93L1556.86,112.01L1558.18,111.09L1559.50,110.18L1560.83,109.26L1562.15,108.35L1563.47,107.43L1564.80,106.51L1566.12,105.60L1567.44,104.68L1568.76,103.77L1570.08,102.85L1571.40,101.93L1572.72,101.02L1574.03,100.10L1575.34,99.19L1576.64,98.27L1577.94,97.35L1579.24,96.44L1580.53,95.52L1581.81,94.61L1583.10,93.69L1584.38,92.77L1585.66,91.86L1586.94,90.94L1588.22,90.03L1589.50,89.11L1590.78,88.19L1592.06,87.28L1593.34,86.36L1594.62,85.45L1595.91,84.53L1597.19,83.61L1598.48,82.70L1599.78,81.78L1601.07,80.87L1602.37,79.95L1603.68,79.03L1604.98,78.12L1606.28,77.20L1607.58,76.29L1608.88,75.37L1610.18,74.45L1611.48,73.54L1612.78,72.62L1614.08,71.71L1615.38,70.79L1616.68,69.87L1617.98,68.96L1619.28,68.04L1620.58,67.13L1621.89,66.21L1623.19,65.29L1624.50,64.38L1625.81,63.46L1627.12,62.55L1628.43,61.63L1629.74,60.71L1631.06,59.80L1632.38,58.88L1633.70,57.97L1635.02,57.05" stroke="#0000ff" stroke-width="3.9" fill="none" stroke-linejoin="round" stroke-linecap="butt"/>
<path d="M1185.60,356.96L1186.36,356.58L1188.20,355.67L1190.04,354.75L1191.89,353.83L1193.74,352.92L1195.60,352.00L1197.45,351.09L1199.32,350.17L1201.18,349.25L1203.05,348.34L1204.91,347.42L1206.78,346.51L1208.64,345.59L1210.50,344.67L1212.35,343.76L1214.20,342.84L1216.04,341.93L1217.87,341.01L1219.69,340.09L1221.51,339.18L1223.32,338.26L1225.12,337.35L1226.91,336.43L1228.70,335.51L1230.49,334.60L1232.27,333.68L1234.04,332.77L1235.81,331.85L1237.58,330.93L1239.33,330.02L1241.09,329.10L1242.84,328.19L1244.58,327.27L1246.32,326.35L1248.06,325.44L1249.79,324.52L1251.51,323.61L1253.23,322.69L1254.95,321.77L1256.66,320.86L1258.37,319.94L1260.07,319.03L1261.77,318.11L1263.47,317.19L1265.16,316.28L1266.85,315.36L1268.54,314.45L1270.22,313.53L1271.90,312.61L1273.57,311.70L1275.25,310.78L1276.92,309.87L1278.59,308.95L1280.25,308.03L1281.92,307.12L1283.58,306.20L1285.24,305.29L1286.90,304.37L1288.56,303.45L1290.21,302.54L1291.87,301.62L1293.52,300.71L1295.17,299.79L1296.83,298.87L1298.49,297.96L1300.15,297.04L1301.81,296.13L1303.47,295.21L1305.13,294.29L1306.80,293.38L1308.46,292.46L1310.13,291.55L1311.79,290.63L1313.45,289.71L1315.12,288.80L1316.78,287.88L1318.44,286.97L1320.09,286.05L1321.74,285.13L1323.39,284.22L1325.04,283.30L1326.68,282.39L1328.32,281.47L1329.96,280.55L1331.58,279.64L1333.21,278.72L1334.82,277.81L1336.44,276.89L1338.04,275.97L1339.64,275.06L1341.23,274.14L1342.82,273.23L1344.40,272.31L1345.97,271.39L1347.55,270.48L1349.11,269.56L1350.68,268.65L1352.24,267.73L1353.80,266.81L1355.35,265.90L1356.90,264.98L1358.45,264.07L1359.99,263.15L1361.53,262.23L1363.07,261.32L1364.61,260.40L1366.14,259.49L1367.67,258.57L1369.20,257.65L1370.73,256.74L1372.26,255.82L1373.79,254.91L1375.31,253.99L1376.84,253.07L1378.36,252.16L1379.89,251.24L1381.41,250.33L1382.94,249.41L1384.47,248.49L1386.00,247.58L1387.55,246.66L1389.09,245.75L1390.65,244.83L1392.20,243.91L1393.76,243.00L1395.32,242.08L1396.89,241.17L1398.45,240.25L1400.02,239.33L1401.59,238.42L1403.15,237.50L1404.72,236.59L1406.29,235.67L1407.85,234.75L1409.41,233.84L1410.97,232.92L1412.53,232.01L1414.08,231.09L1415.63,230.17L1417.17,229.26L1418.71,228.34L1420.24,227.43L1421.76,226.51L1423.28,225.59L1424.79,224.68L1426.29,223.76L1427.79,222.85L1429.29,221.93L1430.78,221.01L1432.27,220.10L1433.75,219.18L1435.23,218.27L1436.71,217.35L1438.18,216.43L1439.66,215.52L1441.13,214.60L1442.59,213.69L1444.06,212.77L1445.52,211.85L1446.98,210.94L1448.44,210.02L1449.90,209.11L1451.35,208.19L1452.81,207.27L1454.27,206.36L1455.72,205.44L1457.17,204.53L1458.63,203.61L1460.08,202.69L1461.54,201.78L1462.99,200.86L1464.45,199.95L1465.90,199.03L1467.35,198.11L1468.81,197.20L1470.26,196.28L1471.71,195.37L1473.16,194.45L1474.61,193.53L1476.06,192.62L1477.51,191.70L1478.95,190.79L1480.40,189.87L1481.84,188.95L1483.29,188.04L1484.73,187.12L1486.17,186.21L1487.61,185.29L1489.05,184.37L1490.49,183.46L1491.93,182.54L1493.37,181.63L1494.81,180.71L1496.25,179.79L1497.68,178.88L1499.12,177.96L1500.55,177.05L1501.99,176.13L1503.42,175.21L1504.85,174.30L1506.29,173.38L1507.73,172.47L1509.17,171.55L1510.60,170.63L1512.04,169.72L1513.49,168.80L1514.93,167.89L1516.37,166.97L1517.81,166.05L1519.25,165.14L1520.69,164.22L1522.13,163.31L1523.56,162.39L1525.00,161.47L1526.43,160.56L1527.86,159.64L1529.29,158.73L1530.72,157.81L1532.14,156.89L1533.56,155.98L1534.98,155.06L1536.39,154.15L1537.80,153.23L1539.20,152.31L1540.60,151.40L1542.00,150.48L1543.39,149.57L1544.78,148.65L1546.17,147.73L1547.56,146.82L1548.95,145.90L1550.34,144.99L1551.74,144.07L1553.13,143.15L1554.52,142.24L1555.91,141.32L1557.30,140.41L1558.69,139.49L1560.08,138.57L1561.46,137.66L1562.85,136.74L1564.24,135.83L1565.62,134.91L1567.00,133.99L1568.38,133.08L1569.76,132.16L1571.14,131.25L1572.51,130.33L1573.88,129.41L1575.25,128.50L1576.62,127.58L1577.98,126.67L1579.35,125.75L1580.70,124.83L1582.06,123.92L1583.41,123.00L1584.76,122.09L1586.11,121.17L1587.46,120.25L1588.80,119.34L1590.14,118.42L1591.48,117.51L1592.82,116.59L1594.16,115.67L1595.49,114.76L1596.83,113.84L1598.16,112.93L1599.49,112.01L1600.83,111.09L1602.16,110.18L1603.49,109.26L1604.82,108.35L1606.15,107.43L1607.48,106.51L1608.82,105.60L1610.15,104.68L1611.48,103.77L1612.81,102.85L1614.15,101.93L1615.49,101.02L1616.83,100.10L1618.18,99.19L1619.54,98.27L1620.89,97.35L1622.25,96.44L1623.62,95.52L1624.98,94.61L1626.35,93.69L1627.72,92.77L1629.09,91.86L1630.46,90.94L1631.82,90.03L1633.19,89.11L1634.55,88.19L1635.91,87.28L1637.27,86.36L1638.63,85.45L1639.98,84.53L1641.32,83.61L1642.66,82.70L1644.00,81.78L1645.32,80.87L1646.64,79.95L1647.96,79.03L1649.27,78.12L1650.59,77.20L1651.90,76.29L1653.21,75.37L1654.52,74.45L1655.82,73.54L1657.13,72.62L1658.44,71.71L1659.74,70.79L1661.04,69.87L1662.34,68.96L1663.64,68.04L1664.94,67.13L1666.24,66.21L1667.53,65.29L1668.83,64.38L1670.12,63.46L1671.41,62.55L1672.70,61.63L1673.99,60.71L1675.28,59.80L1676.56,58.88L1677.85,57.97L1679.13,57.05" stroke="#0000ff" stroke-width="3.9" fill="none" stroke-linejoin="round" stroke-linecap="butt"/>
<path d="M1234.66,352.67L1236.03,352.00L1237.91,351.09L1239.78,350.17L1241.66,349.25L1243.54,348.34L1245.41,347.42L1247.29,346.51L1249.16,345.59L1251.03,344.67L1252.90,343.76L1254.76,342.84L1256.61,341.93L1258.46,341.01L1260.29,340.09L1262.12,339.18L1263.94,338.26L1265.75,337.35L1267.56,336.43L1269.37,335.51L1271.16,334.60L1272.95,333.68L1274.74,332.77L1276.52,331.85L1278.30,330.93L1280.07,330.02L1281.84,329.10L1283.60,328.19L1285.35,327.27L1287.11,326.35L1288.85,325.44L1290.60,324.52L1292.34,323.61L1294.07,322.69L1295.80,321.77L1297.52,320.86L1299.24,319.94L1300.96,319.03L1302.67,318.11L1304.38,317.19L1306.09,316.28L1307.79,315.36L1309.48,314.45L1311.18,313.53L1312.87,312.61L1314.56,311.70L1316.25,310.78L1317.93,309.87L1319.61,308.95L1321.29,308.03L1322.97,307.12L1324.64,306.20L1326.31,305.29L1327.99,304.37L1329.65,303.45L1331.32,302.54L1332.99,301.62L1334.66,300.71L1336.32,299.79L1337.99,298.87L1339.66,297.96L1341.33,297.04L1343.00,296.13L1344.68,295.21L1346.36,294.29L1348.03,293.38L1349.71,292.46L1351.39,291.55L1353.06,290.63L1354.74,289.71L1356.41,288.80L1358.09,287.88L1359.76,286.97L1361.43,286.05L1363.09,285.13L1364.76,284.22L1366.42,283.30L1368.07,282.39L1369.72,281.47L1371.37,280.55L1373.01,279.64L1374.65,278.72L1376.28,277.81L1377.90,276.89L1379.52,275.97L1381.13,275.06L1382.73,274.14L1384.33,273.23L1385.92,272.31L1387.51,271.39L1389.10,270.48L1390.68,269.56L1392.26,268.65L1393.83,267.73L1395.40,266.81L1396.96,265.90L1398.53,264.98L1400.09,264.07L1401.64,263.15L1403.20,262.23L1404.75,261.32L1406.30,260.40L1407.85,259.49L1409.39,258.57L1410.94,257.65L1412.49,256.74L1414.05,255.82L1415.60,254.91L1417.15,253.99L1418.71,253.07L1420.26,252.16L1421.82,251.24L1423.38,250.33L1424.95,249.41L1426.52,248.49L1428.09,247.58L1429.68,246.66L1431.27,245.75L1432.87,244.83L1434.47,243.91L1436.07,243.00L1437.68,242.08L1439.29,241.17L1440.91,240.25L1442.52,239.33L1444.14,238.42L1445.75,237.50L1447.37,236.59L1448.98,235.67L1450.59,234.75L1452.20,233.84L1453.80,232.92L1455.40,232.01L1457.00,231.09L1458.59,230.17L1460.18,229.26L1461.75,228.34L1463.32,227.43L1464.89,226.51L1466.44,225.59L1467.98,224.68L1469.52,223.76L1471.06,222.85L1472.59,221.93L1474.12,221.01L1475.64,220.10L1477.16,219.18L1478.68,218.27L1480.20,217.35L1481.71,216.43L1483.22,215.52L1484.72,214.60L1486.23,213.69L1487.73,212.77L1489.23,211.85L1490.72,210.94L1492.21,210.02L1493.70,209.11L1495.19,208.19L1496.68,207.27L1498.16,206.36L1499.64,205.44L1501.12,204.53L1502.59,203.61L1504.07,202.69L1505.54,201.78L1507.01,200.86L1508.48,199.95L1509.95,199.03L1511.42,198.11L1512.88,197.20L1514.00,196.50" stroke="#0000ff" stroke-width="3.9" fill="none" stroke-linejoin="round" stroke-linecap="butt"/>
</g>
<text x="1053.79" y="491.80" font-size="39.3" text-anchor="middle" fill="#262626" stroke="#262626" stroke-width="0.5" >550</text>
<text x="1161.01" y="491.80" font-size="39.3" text-anchor="middle" fill="#262626" stroke="#262626" stroke-width="0.5" >600</text>
<text x="1268.22" y="491.80" font-size="39.3" text-anchor="middle" fill="#262626" stroke="#262626" stroke-width="0.5" >650</text>
<text x="1375.44" y="491.80" font-size="39.3" text-anchor="middle" fill="#262626" stroke="#262626" stroke-width="0.5" >700</text>
<text x="1482.66" y="491.80" font-size="39.3" text-anchor="middle" fill="#262626" stroke="#262626" stroke-width="0.5" >750</text>
<text x="1589.88" y="491.80" font-size="39.3" text-anchor="middle" fill="#262626" stroke="#262626" stroke-width="0.5" >800</text>
<text x="1697.10" y="491.80" font-size="39.3" text-anchor="middle" fill="#262626" stroke="#262626" stroke-width="0.5" >850</text>
<text x="981.50" y="377.48" font-size="39.3" text-anchor="end" fill="#262626" stroke="#262626" stroke-width="0.5" >250</text>
<text x="981.50" y="275.71" font-size="39.3" text-anchor="end" fill="#262626" stroke="#262626" stroke-width="0.5" >300</text>
<text x="981.50" y="173.93" font-size="39.3" text-anchor="end" fill="#262626" stroke="#262626" stroke-width="0.5" >350</text>
<text x="981.50" y="72.15" font-size="39.3" text-anchor="end" fill="#262626" stroke="#262626" stroke-width="0.5" >400</text>
<text x="1354.00" y="545.50" font-size="43.4" text-anchor="middle" fill="#262626" stroke="#262626" stroke-width="0.5" >Total entropy (J/kgK)</text>
<text transform="translate(901.60,240.25) rotate(-90)" font-size="43.4" text-anchor="middle" fill="#262626" stroke="#262626" stroke-width="0.5">Temperature (K)</text>
<text x="63.00" y="27.00" font-size="39.3" text-anchor="start" fill="#000" stroke="#000" stroke-width="0.5" >(a)</text>
<text x="934.00" y="27.00" font-size="39.3" text-anchor="start" fill="#000" stroke="#000" stroke-width="0.5" >(b)</text>
<text x="201.00" y="87.00" font-size="39.3" text-anchor="start" fill="#000" stroke="#000" stroke-width="0.5" >stress=1500 MPa</text>
<text x="201.00" y="134.45" font-size="39.3" text-anchor="start" fill="#000" stroke="#000" stroke-width="0.5" >strain=3.78 %</text>
<text x="563.00" y="299.60" font-size="39.3" text-anchor="start" fill="#000" stroke="#000" stroke-width="0.5" >stress=0 MPa</text>
<text x="563.00" y="346.75" font-size="39.3" text-anchor="start" fill="#000" stroke="#000" stroke-width="0.5" >strain=0 %</text>
<text x="1065.00" y="87.00" font-size="39.3" text-anchor="start" fill="#000" stroke="#000" stroke-width="0.5" >stress=1500 MPa</text>
<text x="1065.00" y="134.45" font-size="39.3" text-anchor="start" fill="#000" stroke="#000" stroke-width="0.5" >strain=10 %</text>
<text x="1457.00" y="299.60" font-size="39.3" text-anchor="start" fill="#000" stroke="#000" stroke-width="0.5" >stress=0 MPa</text>
<text x="1457.00" y="346.75" font-size="39.3" text-anchor="start" fill="#000" stroke="#000" stroke-width="0.5" >strain=0 %</text>
<path d="M600.50,124.80L553.53,106.15" stroke="#000" stroke-width="4.05" fill="none"/><path d="M540.01,100.78L561.11,102.38L553.53,106.15L556.46,114.09Z" fill="#000" stroke="#000" stroke-width="1.7" stroke-linejoin="round"/>
<path d="M663.10,189.80L670.45,235.19" stroke="#000" stroke-width="4.05" fill="none"/><path d="M672.78,249.54L663.33,230.61L670.45,235.19L675.77,228.60Z" fill="#000" stroke="#000" stroke-width="1.7" stroke-linejoin="round"/>
<path d="M1468.90,124.80L1421.73,106.13" stroke="#000" stroke-width="4.05" fill="none"/><path d="M1408.21,100.78L1429.31,102.36L1421.73,106.13L1424.68,114.07Z" fill="#000" stroke="#000" stroke-width="1.7" stroke-linejoin="round"/>
<path d="M1557.40,189.80L1564.75,235.19" stroke="#000" stroke-width="4.05" fill="none"/><path d="M1567.08,249.54L1557.63,230.61L1564.75,235.19L1570.07,228.60Z" fill="#000" stroke="#000" stroke-width="1.7" stroke-linejoin="round"/>
</svg>
</body></html>
